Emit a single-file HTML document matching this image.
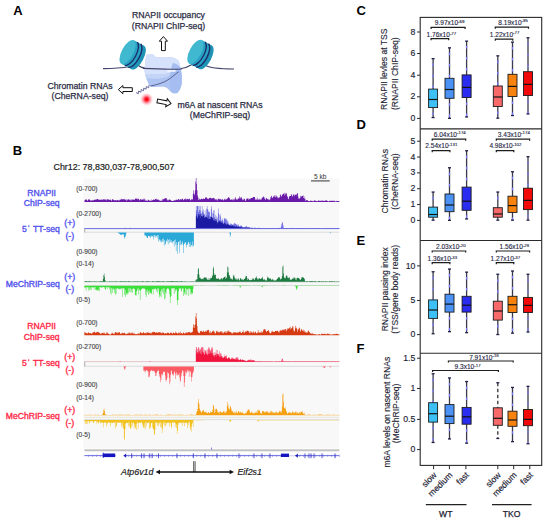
<!DOCTYPE html>
<html><head><meta charset="utf-8"><style>
html,body{margin:0;padding:0;background:#fff;width:550px;height:522px;overflow:hidden}
svg{display:block}
text{font-family:"Liberation Sans",sans-serif}
</style></head><body>
<svg width="550" height="522" viewBox="0 0 550 522">
<rect width="550" height="522" fill="#fff"/>
<text x="13.2" y="14.7" font-size="13" fill="#000" text-anchor="start" font-weight="bold" font-style="normal" >A</text>
<text x="12.8" y="154.6" font-size="13" fill="#000" text-anchor="start" font-weight="bold" font-style="normal" >B</text>
<text x="356.6" y="15.0" font-size="13" fill="#000" text-anchor="start" font-weight="bold" font-style="normal" >C</text>
<text x="356.5" y="129.3" font-size="13" fill="#000" text-anchor="start" font-weight="bold" font-style="normal" >D</text>
<text x="356.5" y="244.5" font-size="13" fill="#000" text-anchor="start" font-weight="bold" font-style="normal" >E</text>
<text x="356.5" y="353.0" font-size="13" fill="#000" text-anchor="start" font-weight="bold" font-style="normal" >F</text>
<text x="168.5" y="18.0" font-size="8.7" fill="#2c2c44" text-anchor="middle" font-weight="normal" font-style="normal" stroke="#2c2c44" stroke-width="0.25">RNAPII occupancy</text>
<text x="168.5" y="29.4" font-size="8.7" fill="#2c2c44" text-anchor="middle" font-weight="normal" font-style="normal" stroke="#2c2c44" stroke-width="0.25">(RNAPII ChIP-seq)</text>
<text x="80" y="89" font-size="8.7" fill="#2c2c44" text-anchor="middle" font-weight="normal" font-style="normal" stroke="#2c2c44" stroke-width="0.25">Chromatin RNAs</text>
<text x="80" y="98.5" font-size="8.7" fill="#2c2c44" text-anchor="middle" font-weight="normal" font-style="normal" stroke="#2c2c44" stroke-width="0.25">(CheRNA-seq)</text>
<text x="220.0" y="108.1" font-size="8.7" fill="#2c2c44" text-anchor="middle" font-weight="normal" font-style="normal" stroke="#2c2c44" stroke-width="0.25">m6A at nascent RNAs</text>
<text x="220.0" y="118.3" font-size="8.7" fill="#2c2c44" text-anchor="middle" font-weight="normal" font-style="normal" stroke="#2c2c44" stroke-width="0.25">(MeChRIP-seq)</text>
<polygon points="0.00,0.00 -4.60,-4.10 -4.60,-1.90 -14.00,-1.90 -14.00,1.90 -4.60,1.90 -4.60,4.10" fill="#fff" stroke="#111" stroke-width="1" stroke-linejoin="miter" transform="translate(163.4,36.6) rotate(-90)"/>
<polygon points="0.00,0.00 -4.60,-4.10 -4.60,-1.90 -14.00,-1.90 -14.00,1.90 -4.60,1.90 -4.60,4.10" fill="#fff" stroke="#111" stroke-width="1" stroke-linejoin="miter" transform="translate(118.3,89.6) rotate(180)"/>
<polygon points="0.00,0.00 -4.60,-4.10 -4.60,-1.90 -14.00,-1.90 -14.00,1.90 -4.60,1.90 -4.60,4.10" fill="#fff" stroke="#111" stroke-width="1" stroke-linejoin="miter" transform="translate(171,103.6) rotate(11)"/>
<path d="M103,68.6 C115,68.6 122,68 130,66.5 M136,63.5 C139,66.5 142,68.2 147,68.4 M180,68.8 C184,68.5 188,67 192,64.5 M205,65 C210,68.5 220,69 234,69" fill="none" stroke="#45456e" stroke-width="1.1"/>
<g transform="translate(127.6,52.0) rotate(28)"><ellipse cx="11.5" cy="0" rx="5.8" ry="13.3" fill="#1e93b6"/><rect x="0" y="-13.3" width="11.5" height="26.6" fill="#27a2c4"/><path d="M3.9,-13.200000000000001 A5.8,13.3 0 0 1 3.9,13.200000000000001" fill="none" stroke="#1c2c66" stroke-width="1.35"/><path d="M7.8,-13.200000000000001 A5.8,13.3 0 0 1 7.8,13.200000000000001" fill="none" stroke="#1c2c66" stroke-width="1.35"/><ellipse cx="0" cy="0" rx="5.8" ry="13.3" fill="#3fb8d0"/></g>
<g transform="translate(195.4,51.8) rotate(28)"><ellipse cx="11.5" cy="0" rx="5.8" ry="13.3" fill="#1e93b6"/><rect x="0" y="-13.3" width="11.5" height="26.6" fill="#27a2c4"/><path d="M3.9,-13.200000000000001 A5.8,13.3 0 0 1 3.9,13.200000000000001" fill="none" stroke="#1c2c66" stroke-width="1.35"/><path d="M7.8,-13.200000000000001 A5.8,13.3 0 0 1 7.8,13.200000000000001" fill="none" stroke="#1c2c66" stroke-width="1.35"/><ellipse cx="0" cy="0" rx="5.8" ry="13.3" fill="#3fb8d0"/></g>
<path d="M146.4,55.5 C147.5,54.3 150,53.8 152,54.2 C153.5,54.5 154.5,55.5 155.6,57.2 C158,57 160,56.9 163,56.9 C167,56.9 170,57 172.2,57.4 C175,57.9 177,59 178.2,60.6 C179.3,62 180,65 180.6,68.4 C181.5,72 182,76 181.9,80.3 C181.8,83.5 181.5,85.5 180.9,86.8 C180.2,89 179.5,90.6 178.6,91.4 C177.6,92.6 176.8,93.3 175.6,93.3 C174,93.4 173,93.2 172.2,92.8 C171,92.2 170,91.3 169.4,90.5 C168.5,89.5 167.6,88.3 166.7,87.7 C164.5,86.8 163,86.8 161.1,86.8 L155.6,86.8 C154,86.9 153,86.9 152,86.8 C150.8,86.5 149.8,85.8 149.2,85 C148.4,84 147.8,82.8 147.4,81.3 C146.5,79.5 145.9,77.5 145.5,75.7 C145,74 144.7,72.5 144.6,71.1 C144.5,69 144.7,67.3 145,65.6 C145.2,64 145.3,62.5 145.5,61 C145.6,59 145.8,57 146.4,55.5 Z" fill="#adc4f3"/>
<clipPath id="pc"><path d="M146.4,55.5 C147.5,54.3 150,53.8 152,54.2 C153.5,54.5 154.5,55.5 155.6,57.2 C158,57 160,56.9 163,56.9 C167,56.9 170,57 172.2,57.4 C175,57.9 177,59 178.2,60.6 C179.3,62 180,65 180.6,68.4 C181.5,72 182,76 181.9,80.3 C181.8,83.5 181.5,85.5 180.9,86.8 C180.2,89 179.5,90.6 178.6,91.4 C177.6,92.6 176.8,93.3 175.6,93.3 C174,93.4 173,93.2 172.2,92.8 C171,92.2 170,91.3 169.4,90.5 C168.5,89.5 167.6,88.3 166.7,87.7 C164.5,86.8 163,86.8 161.1,86.8 L155.6,86.8 C154,86.9 153,86.9 152,86.8 C150.8,86.5 149.8,85.8 149.2,85 C148.4,84 147.8,82.8 147.4,81.3 C146.5,79.5 145.9,77.5 145.5,75.7 C145,74 144.7,72.5 144.6,71.1 C144.5,69 144.7,67.3 145,65.6 C145.2,64 145.3,62.5 145.5,61 C145.6,59 145.8,57 146.4,55.5 Z"/></clipPath>
<g clip-path="url(#pc)"><path d="M140,50 H186 V67 C180,69 176,71 172,72.5 C168,74 163,74.5 158,74.5 C153,74.5 148,74.6 140,75 Z" fill="#d6e1fb"/><path d="M140,75 C148,74.6 153,74.5 158,74.5 C163,74.5 168,74 172,72.5 C170,76 166,78 160,78.5 C154,79 148,78.5 140,78.5 Z" fill="#c3d4f7"/><path d="M173,63 C178,64 184,68 184,80 C184,92 180,96 174,96 C170,92 169,84 170,76 C170.5,71 171.5,66 173,63Z" fill="#a5bdf1"/><path d="M146,82 C150,86 156,87.5 164,87 L164,90 L146,90Z" fill="#9fb8ef"/></g>
<path d="M150.5,86 C155,85 160,84 165,81.5 C169,79.5 172,77 175,74.5 C176.5,73.3 177.5,72.5 178.5,72" fill="none" stroke="#55558a" stroke-width="0.9"/>
<path d="M143,68.4 C155,69 170,69.5 182,69" fill="none" stroke="#45456e" stroke-width="1.1"/>
<path d="M167,70.2 C170,69.8 173.5,69.8 176,70.3 L175.2,72 C172,71.6 170,71.6 167.6,72 Z" fill="#f2f6ff"/>
<polyline points="136.00,92.50 138.30,93.75 138.60,91.00 140.90,92.25 141.20,89.50 143.50,90.75 143.80,88.00 146.10,89.25 146.40,86.50 148.70,87.75 149.00,85.00" fill="none" stroke="#54548a" stroke-width="0.85"/>
<defs><radialGradient id="rg"><stop offset="0" stop-color="#ff0010"/><stop offset="0.22" stop-color="#ff1020"/><stop offset="0.5" stop-color="#ff6878" stop-opacity="0.75"/><stop offset="1" stop-color="#ffc0c8" stop-opacity="0"/></radialGradient></defs>
<circle cx="146.6" cy="99.3" r="6.8" fill="url(#rg)"/>
<text x="53.5" y="169.8" font-size="8.9" fill="#222" text-anchor="start" font-weight="normal" font-style="normal" stroke="#222" stroke-width="0.2">Chr12: 78,830,037-78,900,507</text>
<rect x="83.3" y="178.4" width="256.0" height="270" fill="#f8f8f8"/>
<rect x="311" y="180.3" width="18.7" height="1.2" fill="#555"/>
<text x="320.3" y="179" font-size="6.6" fill="#333" text-anchor="middle" font-weight="normal" font-style="normal" >5 kb</text>
<rect x="84.4" y="231.7" width="254.9" height="1" fill="#dcdcdc"/>
<rect x="84.4" y="284.9" width="254.9" height="1" fill="#dcdcdc"/>
<rect x="84.4" y="365.8" width="254.9" height="1" fill="#dcdcdc"/>
<rect x="84.4" y="419.1" width="254.9" height="1" fill="#dcdcdc"/>
<rect x="84.4" y="361.1" width="254.9" height="1" fill="#e6c4c8"/>
<rect x="84.4" y="281.4" width="254.9" height="1" fill="#c8d4cc"/>
<rect x="84.4" y="228.5" width="0.8" height="4.0" fill="#999"/>
<rect x="84.4" y="361.6" width="0.8" height="5.0" fill="#999"/>
<rect x="84.4" y="416.9" width="254.9" height="0.7" fill="#e2dccc"/>
<path d="M84.4,202.0H84.4V200.5H84.9V199.6H85.4V199.7H85.9V199.5H86.4V199.6H86.9V200.2H87.4V201.0H87.9V200.0H88.4V199.0H88.9V199.8H89.4V199.2H89.9V200.1H90.4V200.8H90.9V200.4H91.4V200.6H91.9V200.8H92.4V199.9H92.9V200.1H93.4V200.6H93.9V199.5H94.4V200.0H94.9V199.5H95.4V199.8H95.9V199.5H96.9V199.0H98.4V200.0H98.9V199.5H99.4V199.9H99.9V199.8H100.4V199.8H101.4V199.4H102.4V200.3H102.9V199.1H103.4V199.4H103.9V200.1H104.4V199.1H104.9V199.5H105.9V200.6H106.4V199.6H106.9V199.2H107.4V199.5H107.9V198.9H108.4V199.7H108.9V199.7H109.4V200.0H109.9V199.8H110.4V199.6H110.9V200.6H111.4V200.8H111.9V199.6H112.4V199.1H112.9V199.9H113.4V199.5H113.9V200.6H114.4V200.1H114.9V200.4H115.4V200.1H115.9V200.4H116.4V200.2H116.9V199.7H117.4V200.1H117.9V200.7H118.4V200.2H118.9V199.8H119.4V200.6H119.9V199.8H120.4V199.4H120.9V199.5H121.4V198.7H121.9V199.2H122.9V199.4H123.4V199.0H123.9V198.7H124.4V199.6H124.9V200.1H125.4V199.5H125.9V199.2H126.4V200.8H126.9V199.4H127.4V200.3H127.9V199.1H128.4V199.4H128.9V199.9H129.4V199.5H129.9V199.6H130.4V200.4H131.4V199.2H131.9V199.9H132.4V199.3H132.9V200.1H133.4V199.3H133.9V199.9H134.4V199.5H134.9V198.7H135.4V198.6H135.9V198.5H136.4V198.7H136.9V198.6H137.4V199.5H137.9V198.9H138.4V198.5H138.9V199.8H139.4V200.5H139.9V199.5H140.4V199.0H140.9V199.2H141.4V199.7H141.9V200.0H142.4V199.3H142.9V198.7H143.4V199.7H143.9V198.4H144.4V199.4H144.9V200.9H145.4V199.4H145.9V200.4H146.4V200.6H146.9V201.0H147.4V200.6H147.9V199.4H148.4V200.1H148.9V200.7H149.4V200.2H149.9V200.9H150.4V200.4H150.9V201.0H151.4V199.5H151.9V200.4H152.4V199.9H152.9V199.7H153.4V199.5H153.9V199.6H154.4V199.9H154.9V199.0H155.4V199.1H155.9V198.6H156.4V199.6H156.9V200.0H157.4V199.2H157.9V199.8H158.4V199.6H158.9V200.0H159.4V200.8H159.9V200.5H160.4V200.9H160.9V200.4H161.4V200.7H161.9V198.8H162.4V200.4H162.9V199.2H163.4V199.3H163.9V199.0H164.4V198.6H164.9V198.1H165.4V198.3H165.9V198.3H166.4V198.6H166.9V199.8H167.4V200.5H167.9V199.8H168.4V200.6H168.9V199.6H169.9V199.8H170.4V200.1H170.9V200.9H171.4V200.5H171.9V201.0H172.4V201.1H172.9V200.9H173.4V200.6H173.9V200.0H174.4V200.8H174.9V200.3H175.4V200.2H175.9V199.5H176.4V199.7H176.9V200.3H177.4V199.9H177.9V199.1H178.9V199.4H179.4V200.3H179.9V199.3H180.4V199.2H180.9V199.7H181.4V199.3H181.9V198.9H182.4V198.4H182.9V199.7H183.4V200.3H183.9V198.9H184.4V199.3H184.9V199.5H185.4V198.2H185.9V198.9H186.4V199.8H186.9V198.9H187.4V198.8H187.9V199.0H188.4V199.5H188.9V198.7H189.4V198.7H189.9V199.9H190.4V200.6H190.9V198.7H191.4V199.4H191.9V200.0H192.4V199.1H192.9V193.8H193.4V190.2H193.9V193.5H194.4V195.2H194.9V190.4H195.4V181.5H195.9V178.1H196.4V183.8H196.9V190.2H197.4V195.4H197.9V197.4H198.4V200.0H198.9V199.4H199.4V198.5H199.9V199.7H200.4V199.2H200.9V199.1H201.4V198.4H201.9V199.1H202.4V199.3H202.9V198.7H203.4V198.4H203.9V199.1H204.4V199.0H204.9V198.1H205.4V197.3H206.4V197.5H206.9V198.8H207.4V198.6H207.9V198.6H208.4V199.3H208.9V198.2H209.4V198.0H209.9V197.8H210.4V197.8H210.9V198.0H211.4V198.7H211.9V198.5H212.4V198.0H212.9V197.8H213.4V198.1H213.9V199.2H214.4V198.1H214.9V199.5H215.4V199.3H215.9V200.3H216.4V199.0H216.9V199.4H217.4V200.5H217.9V198.6H218.4V199.0H218.9V198.7H219.4V199.6H219.9V198.8H220.4V199.4H220.9V199.2H221.4V200.0H221.9V198.9H222.4V199.6H222.9V200.0H223.4V200.4H223.9V198.7H224.4V199.6H224.9V198.7H225.4V200.1H225.9V199.2H226.4V199.3H226.9V198.4H227.9V197.4H228.4V197.1H228.9V197.8H229.4V198.3H229.9V199.6H230.4V199.7H230.9V200.0H231.4V198.9H231.9V200.0H232.4V199.3H232.9V200.4H233.4V198.7H233.9V200.1H234.4V198.7H234.9V198.6H235.4V196.9H235.9V199.5H236.4V199.3H236.9V200.0H237.4V198.7H238.4V198.2H238.9V198.4H239.4V196.3H239.9V197.2H240.4V198.4H240.9V197.6H241.4V197.3H241.9V199.1H242.4V200.3H242.9V198.7H243.4V200.1H243.9V198.6H244.4V198.9H244.9V200.7H245.4V200.8H245.9V199.6H246.4V198.8H246.9V198.5H247.4V198.4H247.9V198.3H248.4V199.8H248.9V199.2H249.4V198.8H249.9V198.3H250.4V199.1H250.9V198.0H251.9V197.9H252.4V197.7H252.9V197.1H253.4V196.9H254.4V197.1H254.9V198.4H255.4V199.9H255.9V199.6H256.9V197.4H257.4V199.6H257.9V199.9H258.4V199.0H258.9V199.9H259.4V198.5H259.9V199.2H260.4V199.7H261.4V198.4H261.9V197.3H262.4V198.1H262.9V196.6H263.4V196.8H263.9V196.9H264.4V198.4H264.9V198.9H265.4V199.9H265.9V197.7H266.4V198.2H266.9V199.0H267.4V199.2H267.9V198.8H268.4V199.7H268.9V199.5H269.4V200.3H269.9V199.3H270.4V197.2H270.9V196.5H271.4V195.7H271.9V198.1H272.4V197.7H272.9V196.7H273.4V196.3H273.9V195.3H274.4V196.8H274.9V195.3H275.4V197.6H275.9V196.8H276.4V195.4H276.9V196.7H277.4V197.6H277.9V198.4H278.4V197.4H278.9V197.2H279.4V197.4H279.9V194.7H280.4V194.6H280.9V196.6H281.4V196.2H281.9V194.6H282.4V194.8H282.9V193.6H283.4V194.0H283.9V192.8H284.4V195.4H284.9V193.0H285.4V194.5H285.9V194.0H286.4V192.7H286.9V195.8H287.4V197.1H287.9V199.2H288.4V198.8H288.9V196.4H289.4V196.2H289.9V196.1H290.9V194.1H291.4V194.7H291.9V196.6H292.4V196.2H292.9V194.2H293.4V194.8H293.9V194.7H294.4V196.3H294.9V194.6H295.4V195.0H295.9V194.0H296.4V195.2H296.9V192.9H297.4V193.5H297.9V196.6H298.4V198.7H298.9V198.0H299.4V198.9H299.9V197.8H300.4V195.7H300.9V196.6H301.4V196.4H301.9V196.0H302.4V196.1H302.9V195.3H303.4V198.1H303.9V196.4H304.4V198.9H304.9V198.6H305.4V201.0H305.9V200.2H306.4V200.1H306.9V200.4H307.4V200.1H307.9V200.9H308.9V201.3H309.9V200.7H310.4V200.5H310.9V201.1H311.4V200.8H312.4V201.2H312.9V201.4H313.4V200.7H314.4V200.3H314.9V200.8H315.4V200.4H315.9V200.9H316.4V201.0H316.9V201.4H317.4V200.9H317.9V200.4H318.4V200.5H318.9V200.4H319.4V200.9H319.9V200.6H320.4V201.1H320.9V200.9H321.4V200.4H321.9V200.5H322.4V200.7H322.9V200.6H323.4V201.0H323.9V200.9H324.4V200.7H324.9V200.4H325.9V200.5H326.4V200.3H326.9V200.7H327.4V201.0H327.9V201.3H328.4V201.5H328.9V200.9H329.4V200.7H329.9V201.0H330.4V200.5H330.9V201.0H331.4V200.7H331.9V200.6H332.4V200.9H332.9V200.6H333.4V201.2H333.9V200.7H334.4V200.8H334.9V201.4H335.4V201.3H335.9V201.5H336.4V200.7H336.9V201.0H337.4V201.1H338.9V200.8H339.3V202.0Z" fill="#6a1aa8"/>
<path d="M84.4,335.2H84.4V332.1H84.9V332.6H85.4V332.8H85.9V333.2H86.4V332.9H86.9V333.6H87.4V333.5H87.9V332.3H88.4V332.6H88.9V333.2H89.9V333.3H90.4V333.1H90.9V333.2H91.4V334.0H91.9V332.5H92.4V333.4H92.9V332.6H93.4V332.0H93.9V331.9H94.4V331.5H94.9V332.9H95.4V332.5H95.9V332.7H96.4V332.0H96.9V331.9H97.4V331.7H97.9V332.4H98.4V331.9H98.9V332.5H99.4V333.1H99.9V333.7H100.4V333.8H101.4V333.0H102.4V332.8H102.9V333.5H103.4V332.4H103.9V333.5H104.4V332.8H104.9V333.5H105.4V334.1H105.9V334.0H106.4V332.3H106.9V332.2H107.4V333.2H107.9V333.2H108.4V334.0H108.9V334.1H109.4V334.4H109.9V334.6H110.4V334.7H110.9V333.3H111.4V333.7H111.9V332.6H112.4V333.6H112.9V333.3H113.4V333.9H113.9V334.3H114.4V333.2H114.9V332.3H115.4V331.9H115.9V332.5H116.4V332.5H116.9V333.5H117.4V332.5H117.9V332.6H118.4V332.8H118.9V332.0H119.4V332.3H119.9V333.6H120.4V334.0H120.9V333.5H121.9V332.4H122.4V333.2H122.9V333.6H123.4V333.1H123.9V332.6H124.4V333.0H124.9V333.5H125.4V334.2H125.9V333.9H126.4V334.1H126.9V333.5H127.4V333.6H127.9V333.9H128.4V332.5H128.9V332.9H129.4V332.4H129.9V332.8H130.4V333.7H130.9V333.6H131.4V332.5H131.9V333.2H132.4V332.6H132.9V333.9H133.4V332.8H133.9V333.8H134.4V333.6H134.9V333.9H135.4V334.3H135.9V333.9H136.4V334.3H137.4V333.8H137.9V332.9H138.4V333.7H138.9V334.2H139.4V333.3H139.9V332.1H140.4V332.4H140.9V332.7H141.4V332.9H141.9V333.4H142.4V333.2H142.9V332.5H143.4V332.1H143.9V333.1H144.4V333.5H144.9V332.9H145.4V332.8H145.9V333.7H146.4V332.4H146.9V332.8H147.4V332.2H147.9V332.3H148.4V333.0H148.9V332.7H149.4V333.0H149.9V333.7H150.4V332.5H150.9V333.5H151.4V332.8H151.9V332.2H152.9V331.6H153.4V332.2H153.9V332.1H154.9V332.5H155.4V333.0H155.9V332.1H156.4V332.6H156.9V333.1H157.4V332.8H157.9V332.2H158.4V332.4H159.4V332.0H159.9V332.3H160.4V332.4H160.9V333.6H161.4V332.9H161.9V332.1H162.4V333.3H162.9V332.7H163.4V332.4H163.9V333.3H164.4V333.8H164.9V333.5H165.4V333.1H165.9V333.6H166.9V332.9H167.4V332.5H167.9V332.4H168.4V333.1H168.9V333.2H169.4V334.1H169.9V333.0H170.4V332.7H170.9V332.1H171.4V333.2H172.4V334.0H172.9V332.6H173.4V332.7H173.9V333.0H174.4V333.4H174.9V333.2H175.4V331.5H175.9V333.0H176.4V332.4H176.9V332.9H177.4V333.8H177.9V333.6H178.4V332.6H178.9V332.6H179.4V333.3H179.9V333.7H180.4V331.6H180.9V333.0H181.4V332.9H181.9V333.8H182.9V332.6H183.4V332.5H183.9V332.9H184.4V333.7H184.9V333.6H185.4V332.7H185.9V332.3H186.4V332.8H186.9V333.2H187.4V332.3H188.4V332.2H188.9V331.9H189.4V331.9H189.9V332.9H190.4V332.6H190.9V333.0H191.4V332.1H191.9V332.3H192.4V331.5H192.9V327.5H193.4V324.0H193.9V325.1H194.4V327.9H194.9V324.6H195.4V316.6H195.9V313.0H196.4V318.4H196.9V326.0H197.4V330.8H197.9V332.3H198.4V332.8H198.9V333.2H199.4V333.1H199.9V331.6H200.4V330.9H200.9V330.7H201.4V331.3H201.9V332.1H202.4V331.7H202.9V330.5H203.4V331.3H203.9V332.2H204.4V331.8H205.4V330.5H205.9V331.4H206.4V331.5H206.9V330.4H207.4V330.0H207.9V329.4H208.4V329.9H208.9V331.5H209.4V332.7H209.9V333.5H210.4V331.0H210.9V332.9H211.4V332.3H211.9V331.8H212.4V330.9H212.9V331.4H213.4V330.6H213.9V331.3H214.4V332.4H214.9V333.6H215.4V333.2H215.9V331.6H216.4V331.2H216.9V330.4H217.4V332.3H217.9V331.8H218.4V332.2H218.9V332.3H219.4V332.4H219.9V331.3H220.4V331.7H220.9V331.1H221.4V332.3H221.9V331.6H222.4V333.1H222.9V333.4H223.4V332.5H223.9V331.9H224.4V331.4H224.9V333.0H225.4V331.6H225.9V331.2H226.4V332.9H226.9V332.3H227.4V330.9H227.9V330.3H228.4V331.7H228.9V331.0H229.4V332.1H229.9V331.9H230.4V332.2H231.4V333.2H231.9V333.2H232.4V333.4H232.9V332.6H233.4V332.2H233.9V333.0H234.4V331.9H234.9V332.1H235.4V332.5H235.9V332.9H236.4V332.5H236.9V332.4H237.4V332.7H237.9V332.1H238.4V332.8H238.9V332.0H239.4V331.5H239.9V332.6H240.4V331.6H240.9V333.3H241.4V333.1H241.9V331.9H242.4V332.1H242.9V330.3H243.4V332.6H243.9V332.0H244.4V333.2H244.9V331.4H245.4V331.7H245.9V330.7H246.4V331.9H246.9V330.8H247.9V331.1H248.4V331.5H248.9V331.6H249.4V333.3H249.9V333.0H250.4V331.2H250.9V331.6H251.4V332.6H251.9V332.2H252.4V333.3H252.9V331.1H253.4V332.3H253.9V333.3H254.4V332.6H254.9V332.1H255.4V331.4H255.9V333.0H256.4V333.6H256.9V333.3H257.4V332.3H257.9V330.1H258.4V332.6H258.9V332.5H259.4V332.8H259.9V332.5H260.4V332.6H260.9V331.1H261.4V332.7H262.4V332.0H262.9V330.9H263.4V329.6H263.9V329.1H264.4V329.6H264.9V329.0H265.4V330.6H265.9V331.5H266.4V331.9H266.9V331.0H267.9V330.0H268.4V330.4H268.9V331.5H269.4V332.8H269.9V333.6H270.4V333.1H270.9V332.8H271.4V331.2H271.9V331.9H272.4V330.8H272.9V331.6H273.4V332.1H273.9V331.9H274.4V332.1H274.9V330.7H275.4V330.9H275.9V331.2H276.4V330.9H276.9V330.5H277.4V331.0H277.9V331.6H278.4V331.9H278.9V332.7H279.4V330.8H279.9V330.4H280.4V330.2H280.9V330.7H281.4V330.5H281.9V330.2H282.4V329.6H282.9V329.8H283.4V330.3H283.9V329.0H284.4V330.2H284.9V328.9H285.4V329.1H285.9V331.3H286.4V330.3H286.9V328.2H287.4V329.5H287.9V328.4H288.4V328.8H288.9V327.9H289.4V327.5H289.9V329.4H290.4V326.8H290.9V328.4H291.4V328.3H291.9V327.8H292.4V326.1H292.9V326.5H293.4V330.2H293.9V331.7H294.4V331.0H294.9V328.5H295.4V325.8H295.9V327.4H296.4V328.3H296.9V329.6H297.4V332.1H297.9V328.8H298.4V329.7H298.9V327.4H299.4V328.0H299.9V330.4H300.4V331.8H300.9V329.6H301.4V329.1H301.9V330.8H302.4V330.5H302.9V329.4H303.4V331.4H303.9V330.2H304.4V331.7H304.9V332.4H305.4V331.6H305.9V332.7H306.4V332.2H306.9V333.0H307.4V331.7H307.9V330.7H308.4V330.4H308.9V332.0H309.4V332.2H309.9V333.5H310.4V333.0H310.9V333.9H311.4V333.5H311.9V332.8H312.4V333.9H312.9V333.8H313.4V334.0H313.9V334.5H314.4V334.0H314.9V334.3H315.4V334.0H315.9V334.6H316.4V334.7H316.9V334.5H317.4V334.7H317.9V334.2H318.4V334.5H318.9V334.2H319.4V334.1H319.9V334.4H320.4V334.7H320.9V334.2H321.4V333.8H321.9V333.6H322.4V334.0H322.9V333.9H323.4V334.0H324.4V333.8H324.9V334.3H325.4V333.8H325.9V334.0H326.4V334.5H326.9V333.6H327.4V333.7H327.9V333.7H328.4V334.1H328.9V333.8H329.4V334.4H329.9V334.2H330.4V334.4H330.9V334.7H331.4V334.5H331.9V334.2H332.4V334.4H332.9V334.1H333.4V334.4H333.9V333.9H334.4V334.3H334.9V334.0H335.4V334.3H335.9V333.5H336.4V333.9H337.9V334.2H338.4V334.4H338.9V334.3H339.3V335.2Z" fill="#d63a12"/>
<path d="M84.4,228.6H84.4V228.6H124.4V228.2H124.9V227.6H125.4V228.0H125.9V228.5H126.4V228.6H129.4V228.4H129.9V227.6H130.4V228.1H130.9V228.6H195.9V206.1H196.4V210.4H196.9V206.1H198.4V212.0H198.9V206.1H199.4V210.0H199.9V210.4H200.4V206.1H200.9V212.8H201.4V217.6H201.9V206.1H202.4V211.2H202.9V212.5H203.4V209.5H203.9V214.2H204.4V217.7H204.9V210.4H205.4V216.5H205.9V215.2H206.4V208.6H206.9V206.1H207.4V209.1H207.9V210.2H208.4V211.9H208.9V212.3H209.4V211.6H209.9V217.6H210.4V216.0H210.9V208.7H211.4V206.1H211.9V212.6H212.4V217.7H212.9V213.8H213.4V210.6H213.9V209.9H214.4V216.9H214.9V221.4H215.4V214.8H215.9V219.8H216.4V216.3H216.9V222.5H217.4V217.8H217.9V213.0H218.4V208.4H218.9V214.9H219.4V219.9H219.9V213.7H220.4V216.4H220.9V219.7H221.4V221.3H221.9V218.3H222.4V220.0H222.9V221.0H223.4V223.5H223.9V218.7H224.4V218.1H224.9V218.4H225.4V218.8H225.9V220.2H226.4V218.7H226.9V222.6H227.4V220.2H227.9V221.6H228.4V223.7H228.9V224.7H229.9V223.1H230.4V224.2H230.9V224.3H231.4V223.7H231.9V223.9H232.4V225.0H232.9V225.2H233.4V223.9H233.9V222.8H234.4V223.6H234.9V223.3H235.4V224.1H236.4V225.1H236.9V224.2H237.4V225.6H237.9V225.3H238.4V224.6H238.9V225.9H239.4V226.5H239.9V226.0H240.4V225.5H240.9V225.3H241.4V226.1H241.9V226.3H242.4V227.2H242.9V226.9H243.4V227.6H243.9V227.3H244.4V227.6H244.9V226.7H245.9V226.3H246.4V226.0H246.9V227.1H247.4V227.0H249.4V227.1H249.9V227.7H250.4V227.8H250.9V227.6H251.4V227.9H251.9V227.7H252.4V227.4H252.9V227.9H253.4V228.1H253.9V227.8H254.9V227.7H255.4V227.8H255.9V228.0H256.4V228.1H256.9V228.3H257.4V228.0H257.9V227.8H259.4V228.0H259.9V228.1H260.9V227.9H261.4V228.2H261.9V228.1H262.4V228.2H262.9V228.0H263.4V228.1H263.9V228.1H264.9V228.1H265.4V227.9H265.9V228.1H266.4V227.9H266.9V228.2H267.4V228.2H267.9V228.3H268.9V228.1H269.4V228.0H269.9V228.2H270.4V228.3H270.9V228.2H271.4V228.0H271.9V227.9H273.4V228.2H274.4V228.3H274.9V228.2H275.4V228.1H275.9V228.2H276.9V228.1H277.4V228.3H277.9V228.1H278.4V227.9H278.9V227.8H279.4V228.0H280.4V227.8H280.9V226.6H281.4V223.9H281.9V222.2H282.4V222.5H282.9V224.9H283.4V227.4H283.9V228.0H284.9V228.2H285.4V228.1H287.9V228.2H288.4V228.1H288.9V228.3H289.4V228.2H289.9V228.1H291.4V227.9H291.9V227.8H292.4V228.1H292.9V228.0H293.9V228.2H295.4V228.4H295.9V228.2H296.4V228.0H296.9V228.1H297.4V228.0H298.4V228.2H298.9V228.0H299.9V227.9H301.4V228.1H301.9V228.0H302.4V227.9H303.4V228.0H304.9V228.2H305.4V228.3H307.4V228.2H307.9V228.1H309.9V228.2H310.9V228.0H311.4V228.1H311.9V228.2H312.4V228.0H313.4V228.1H313.9V228.1H314.9V228.1H315.4V228.2H315.9V228.3H316.9V228.1H317.4V228.2H317.9V228.2H318.4V228.3H319.4V228.3H319.9V228.3H320.4V228.3H320.9V228.4H322.4V228.2H322.9V228.3H323.4V228.4H323.9V228.3H324.4V228.2H324.9V228.1H325.4V228.3H326.4V228.2H326.9V228.3H327.4V228.0H327.9V228.2H328.4V228.3H328.9V228.2H329.4V228.3H329.9V228.1H330.9V228.3H331.4V228.4H331.9V228.1H332.4V228.2H332.9V228.0H333.9V227.9H334.4V228.1H334.9V228.2H335.9V228.0H336.9V228.1H337.4V228.3H337.9V228.1H338.4V227.9H338.9V228.0H339.3V228.6Z" fill="#7272e2"/>
<path d="M84.4,228.6H84.4V228.6H195.9V216.3H196.4V214.6H196.9V217.9H197.4V217.7H197.9V215.8H198.4V213.9H199.4V215.6H199.9V218.1H200.4V214.2H200.9V213.7H201.4V215.9H201.9V216.1H202.4V216.9H202.9V216.0H203.4V215.1H203.9V214.3H204.4V217.7H204.9V216.8H205.4V217.8H205.9V216.9H206.4V217.0H206.9V218.3H207.4V217.7H207.9V215.8H208.4V218.9H208.9V219.0H209.4V218.9H209.9V216.8H210.4V219.2H210.9V217.3H211.4V217.1H211.9V217.5H212.4V218.0H212.9V220.4H213.4V219.7H213.9V218.5H214.4V220.8H214.9V221.1H215.4V219.0H216.4V221.1H216.9V223.4H217.4V222.4H217.9V221.7H218.4V221.2H218.9V222.2H219.4V220.9H219.9V221.5H220.4V221.8H220.9V221.5H221.4V222.9H221.9V222.3H222.4V223.2H222.9V223.5H223.4V224.3H223.9V222.8H224.9V224.6H225.4V223.4H225.9V224.8H226.4V224.3H226.9V224.6H227.4V223.8H227.9V224.7H228.9V225.1H229.4V225.4H229.9V225.5H230.4V225.9H230.9V226.0H231.4V225.5H231.9V225.4H232.4V225.6H232.9V226.2H233.4V225.5H233.9V226.5H234.4V226.3H234.9V226.5H235.4V226.7H235.9V226.1H236.4V226.4H236.9V226.9H237.9V226.6H238.4V227.0H238.9V227.1H239.4V227.2H240.9V227.3H241.4V227.2H241.9V227.6H242.4V227.4H243.4V227.7H243.9V227.4H244.9V227.6H245.4V227.7H245.9V227.8H246.4V227.7H246.9V227.8H247.4V227.9H247.9V227.8H248.4V228.0H248.9V227.9H249.9V228.1H250.4V227.9H250.9V228.1H251.9V228.0H252.9V228.1H253.4V228.0H253.9V228.1H254.4V228.0H254.9V228.2H255.4V228.1H255.9V228.2H256.4V228.1H256.9V228.2H257.4V228.1H258.4V228.2H263.9V228.3H264.4V228.2H264.9V228.3H265.4V228.2H267.9V228.3H268.4V228.4H268.9V228.3H270.4V228.3H270.9V228.2H271.9V228.3H273.9V228.2H274.4V228.3H274.9V228.2H275.4V228.3H276.4V228.3H279.9V228.4H281.4V228.3H281.9V228.3H282.9V228.2H283.9V228.3H285.4V228.3H286.9V228.3H289.4V228.2H289.9V228.3H292.4V228.2H293.4V228.3H293.9V228.3H295.9V228.2H296.4V228.3H298.9V228.3H300.9V228.3H301.9V228.3H303.9V228.3H305.4V228.4H307.4V228.3H307.9V228.3H308.9V228.3H309.4V228.3H310.4V228.3H310.9V228.3H311.4V228.3H312.9V228.3H315.9V228.3H317.4V228.2H319.4V228.3H320.9V228.4H323.9V228.2H325.4V228.3H326.4V228.3H326.9V228.3H327.9V228.2H328.4V228.4H328.9V228.3H331.4V228.4H331.9V228.2H332.4V228.3H333.4V228.2H333.9V228.3H334.4V228.3H335.4V228.3H335.9V228.2H336.9V228.3H337.4V228.2H338.4V228.3H338.9V228.3H339.3V228.6Z" fill="#1a1aa2"/>
<rect x="84.4" y="228.1" width="254.9" height="1" fill="#6a6ae0"/>
<path d="M84.4,232.4H84.4V232.4H116.4V232.5H116.9V232.6H117.4V232.7H117.9V232.9H118.4V233.2H118.9V233.6H119.4V234.1H119.9V234.5H120.4V234.8H120.9V234.9H121.4V234.8H121.9V234.6H122.4V234.2H122.9V234.0H123.4V234.7H123.9V237.1H124.4V238.8H124.9V237.2H125.4V235.7H125.9V233.7H126.4V232.5H126.9V232.4H144.4V235.4H144.9V235.1H145.4V235.5H145.9V236.5H146.9V238.1H147.9V236.0H148.4V235.7H148.9V236.2H149.4V236.3H149.9V237.9H150.4V236.6H150.9V235.6H151.4V236.4H152.4V236.2H152.9V235.5H153.4V239.6H153.9V236.7H154.4V235.1H154.9V235.2H155.4V237.4H155.9V236.1H156.4V236.3H156.9V238.2H157.4V235.0H157.9V235.2H158.4V241.5H158.9V240.6H159.4V239.2H159.9V239.7H160.4V241.5H160.9V242.4H161.4V240.8H161.9V241.9H162.4V239.0H162.9V241.5H163.4V238.4H163.9V245.8H164.4V239.9H164.9V243.5H165.4V244.5H165.9V240.9H166.4V240.4H166.9V241.8H167.4V238.7H167.9V244.5H168.4V240.1H168.9V239.1H169.4V243.0H169.9V239.8H170.4V242.0H170.9V242.5H171.4V240.3H171.9V243.2H172.4V241.8H172.9V241.5H173.4V240.9H173.9V246.5H174.4V240.3H174.9V239.6H175.4V244.4H175.9V251.0H176.4V242.2H176.9V245.0H177.4V253.8H177.9V242.2H178.4V242.1H178.9V240.8H179.4V252.8H179.9V245.2H180.4V240.4H180.9V244.6H181.4V244.5H181.9V241.1H182.4V242.9H182.9V245.2H183.4V252.9H183.9V243.8H184.4V243.5H184.9V241.9H185.4V242.4H185.9V245.0H186.4V247.2H186.9V243.6H187.4V245.0H187.9V242.4H188.4V241.8H188.9V247.1H189.4V243.9H189.9V242.2H190.4V247.0H190.9V245.4H191.4V245.1H191.9V246.7H192.4V241.4H192.9V245.0H193.4V246.2H193.9V232.4H229.4V233.5H229.9V236.7H230.4V234.8H230.9V232.6H231.4V232.4H329.4V232.6H329.9V233.4H330.4V232.9H330.9V232.4H339.3V232.4Z" fill="#2aa8d8"/>
<path d="M84.4,281.8H84.4V281.2H84.9V281.2H85.4V281.1H85.9V281.0H87.4V281.4H88.4V281.1H89.4V281.0H89.9V281.3H90.9V281.4H91.4V281.3H91.9V281.3H92.4V281.5H93.9V281.2H94.4V281.1H94.9V281.4H95.4V281.2H95.9V281.4H96.4V281.3H96.9V281.5H97.4V281.6H97.9V281.3H98.4V281.4H98.9V281.5H99.4V281.2H99.9V281.1H100.4V281.3H100.9V281.1H101.4V281.2H102.4V281.0H102.9V279.0H103.4V275.3H103.9V273.6H104.4V276.7H104.9V280.1H105.4V281.2H105.9V281.5H106.4V281.5H106.9V281.6H107.4V281.5H107.9V281.4H108.4V281.6H108.9V281.3H109.9V281.4H110.4V281.2H111.4V281.4H112.4V281.2H112.9V281.5H113.4V281.2H113.9V281.4H114.4V281.3H114.9V281.1H115.4V281.4H115.9V281.2H116.4V281.3H117.4V281.5H117.9V281.6H118.9V281.2H119.4V281.4H119.9V281.2H120.4V281.1H120.9V281.0H121.4V281.2H121.9V281.3H122.9V281.2H123.4V281.4H123.9V281.2H124.4V281.1H124.9V281.1H125.4V281.4H125.9V281.1H126.4V281.4H127.4V281.3H127.9V281.1H128.4V281.3H128.9V281.1H129.4V281.2H129.9V281.3H130.4V281.4H130.9V281.5H131.4V281.6H132.4V281.4H132.9V281.1H133.4V281.4H133.9V281.5H134.4V281.2H135.4V281.3H135.9V281.4H136.4V281.3H136.9V281.2H137.4V281.3H137.9V281.3H138.4V281.5H138.9V281.2H139.4V281.5H139.9V281.4H140.4V281.2H140.9V281.4H141.4V281.3H141.9V281.1H142.4V281.1H143.4V281.4H144.4V281.5H144.9V281.2H145.4V281.4H146.4V281.1H146.9V281.0H147.4V281.0H147.9V281.2H148.4V281.2H148.9V281.2H149.4V281.2H149.9V281.4H150.9V281.5H151.9V281.2H152.4V281.0H152.9V281.1H153.4V281.2H153.9V281.3H154.4V281.5H155.4V281.3H155.9V281.1H156.4V281.3H156.9V281.2H157.4V281.1H159.4V281.3H159.9V281.2H160.4V281.3H161.4V281.2H162.4V281.3H162.9V281.1H163.9V281.2H164.4V281.5H164.9V281.4H165.4V281.4H165.9V281.3H166.9V281.2H167.9V281.1H168.4V281.3H169.4V281.2H169.9V281.1H170.4V281.3H170.9V281.1H171.4V281.1H172.4V281.0H173.4V281.1H173.9V281.2H174.4V281.4H174.9V281.2H175.4V281.1H175.9V281.2H176.9V281.1H177.9V281.4H178.4V281.2H179.9V281.3H180.9V281.1H182.4V281.4H182.9V281.5H183.4V281.4H183.9V281.3H184.4V281.4H184.9V281.3H185.9V281.5H186.4V281.4H186.9V281.5H187.4V281.6H189.9V281.6H190.4V281.5H191.4V281.3H191.9V281.3H192.4V281.4H192.9V281.2H193.4V281.5H195.4V280.2H195.9V279.0H196.4V280.3H196.9V279.2H197.4V274.2H197.9V269.2H198.4V268.0H198.9V274.4H199.4V277.8H199.9V277.5H200.4V278.6H200.9V279.3H201.4V279.1H201.9V278.6H202.4V279.0H202.9V279.6H203.4V278.0H203.9V277.2H204.4V277.7H204.9V277.0H205.4V278.1H205.9V277.2H206.4V278.6H206.9V279.7H207.4V279.4H207.9V278.3H208.4V279.9H208.9V279.9H209.4V278.6H209.9V279.3H210.4V277.8H210.9V278.0H211.9V276.3H212.4V275.3H212.9V268.4H213.4V266.8H213.9V273.6H214.4V275.2H214.9V274.9H215.4V274.5H215.9V278.1H216.4V279.0H216.9V278.5H217.4V278.7H217.9V279.1H218.4V278.0H218.9V278.9H219.4V280.0H219.9V278.9H220.4V279.4H220.9V278.0H221.4V278.5H221.9V278.6H222.4V279.6H222.9V278.1H223.4V277.8H223.9V276.9H224.4V277.1H224.9V276.3H225.4V278.8H225.9V277.5H226.4V277.9H226.9V272.4H227.4V266.6H227.9V267.6H228.4V272.4H228.9V275.1H229.4V275.4H229.9V277.6H230.4V278.8H230.9V279.0H231.4V278.4H231.9V280.0H232.4V278.9H232.9V276.6H233.4V274.8H233.9V275.5H234.4V277.4H234.9V279.4H235.4V278.6H235.9V278.2H236.4V279.6H236.9V280.3H237.4V279.3H237.9V278.0H238.4V278.9H238.9V280.1H239.4V280.6H239.9V278.5H240.4V278.1H240.9V278.7H241.4V279.7H241.9V279.6H243.4V280.2H243.9V279.1H244.4V278.9H244.9V278.0H245.4V276.6H245.9V276.0H246.4V275.9H246.9V278.0H247.4V279.9H247.9V278.5H248.4V278.9H248.9V279.9H249.4V280.2H249.9V279.8H250.4V280.2H250.9V280.1H251.4V280.0H251.9V278.2H252.4V279.5H252.9V278.6H253.4V278.8H253.9V279.8H254.9V278.3H255.4V277.8H256.4V276.3H256.9V278.3H257.4V279.4H257.9V278.6H258.4V279.4H258.9V277.9H259.4V278.5H259.9V278.9H260.9V277.9H261.4V278.7H261.9V277.7H262.4V276.8H262.9V279.1H263.4V280.1H263.9V279.7H264.4V279.1H264.9V280.5H265.4V279.9H265.9V280.4H266.4V280.6H266.9V278.3H267.4V276.6H267.9V277.6H268.4V277.7H268.9V278.8H269.4V278.4H269.9V279.1H270.4V278.1H270.9V279.5H271.4V280.2H271.9V278.7H272.4V279.4H272.9V280.4H273.4V279.4H273.9V280.2H274.4V280.7H274.9V280.3H275.4V280.6H275.9V280.2H276.4V279.4H276.9V278.7H277.4V278.5H277.9V277.8H278.4V277.1H278.9V277.4H279.4V277.3H279.9V278.8H280.4V279.5H280.9V278.7H281.4V278.6H281.9V276.1H282.4V266.8H282.9V265.4H283.4V273.6H283.9V277.6H284.4V277.8H284.9V278.5H285.4V277.6H285.9V276.1H286.4V275.0H286.9V275.9H287.4V277.8H287.9V277.8H288.4V278.2H288.9V277.2H289.4V277.4H289.9V280.0H290.4V279.5H291.4V279.7H291.9V279.1H292.4V278.3H292.9V278.9H293.4V277.6H293.9V277.3H294.4V278.3H294.9V277.7H295.4V279.5H295.9V280.2H296.4V278.4H296.9V277.8H297.9V278.0H298.9V278.5H299.4V279.0H299.9V280.1H300.4V279.8H300.9V278.7H301.4V277.5H301.9V277.0H302.4V277.5H302.9V277.3H303.4V277.8H303.9V278.3H304.4V279.2H304.9V281.3H305.4V281.2H306.4V281.3H306.9V281.1H307.4V281.3H307.9V281.2H308.4V281.4H308.9V281.3H309.4V281.2H309.9V281.1H310.4V281.0H310.9V281.1H312.4V281.1H312.9V281.3H313.9V281.1H314.4V281.3H314.9V281.1H315.4V281.2H315.9V281.3H316.4V281.5H316.9V281.5H317.4V281.5H317.9V281.3H318.4V281.1H318.9V281.0H319.4V281.1H319.9V281.3H320.4V281.5H320.9V281.3H321.9V281.2H322.4V281.3H322.9V281.1H323.4V281.3H323.9V281.4H324.9V281.3H325.4V281.1H325.9V281.4H326.4V281.3H326.9V281.2H327.4V281.4H327.9V281.5H328.4V281.4H328.9V281.2H329.4V281.1H330.4V281.2H330.9V281.3H331.9V281.1H332.4V281.3H332.9V281.4H333.4V281.3H333.9V281.1H334.4V281.3H334.9V281.5H335.4V281.6H335.9V281.4H336.4V281.3H336.9V281.4H337.4V281.5H337.9V281.4H338.4V281.3H338.9V281.2H339.3V281.8Z" fill="#1c7a40"/>
<path d="M84.4,285.7H84.4V287.5H84.9V288.3H85.4V287.4H85.9V290.4H86.4V287.1H86.9V287.5H87.4V287.3H87.9V287.1H88.4V290.6H88.9V287.4H89.4V290.2H89.9V287.5H90.4V289.6H90.9V287.1H91.4V290.0H91.9V287.2H92.4V287.6H92.9V287.4H93.4V287.5H93.9V289.4H94.4V287.1H94.9V287.0H95.4V290.0H95.9V289.4H96.4V290.2H96.9V290.4H97.4V290.2H97.9V289.4H98.4V290.7H98.9V286.9H99.4V291.0H99.9V287.1H100.4V287.6H101.9V287.3H102.4V287.5H102.9V287.0H103.4V287.1H103.9V288.6H104.4V287.0H104.9V289.3H105.4V289.7H105.9V287.6H106.4V287.1H106.9V289.3H107.4V287.1H108.4V287.7H108.9V287.2H109.4V289.4H109.9V287.5H110.4V293.3H110.9V294.8H111.4V288.1H111.9V288.5H112.4V292.7H112.9V289.4H113.4V288.6H113.9V289.2H114.4V293.1H114.9V288.2H115.4V294.8H115.9V294.1H116.4V288.6H116.9V288.9H117.4V288.1H117.9V288.1H118.4V289.3H119.4V289.0H119.9V288.2H120.4V289.3H120.9V289.1H121.4V288.4H121.9V288.0H122.4V297.1H122.9V288.1H123.4V288.4H123.9V288.6H124.4V295.0H124.9V289.8H125.4V296.7H125.9V295.0H126.4V293.3H126.9V292.7H127.4V294.6H127.9V288.6H128.4V293.4H128.9V288.0H129.4V291.4H129.9V292.5H130.4V288.3H130.9V289.3H131.4V291.9H131.9V288.8H132.4V293.0H132.9V288.5H133.9V288.8H134.4V289.0H134.9V295.3H135.9V291.2H136.4V295.5H136.9V290.7H137.4V288.8H137.9V288.3H138.4V294.4H138.9V289.4H139.4V290.1H139.9V300.0H140.4V290.9H140.9V289.8H141.4V289.1H141.9V288.4H142.4V288.3H142.9V289.1H143.4V288.3H143.9V288.3H144.4V289.1H144.9V289.0H145.4V294.8H145.9V291.1H146.4V296.9H146.9V289.4H147.4V292.4H147.9V290.4H148.4V294.9H148.9V293.5H149.4V290.6H149.9V293.4H150.4V292.4H150.9V292.8H151.4V294.3H151.9V289.2H152.4V289.4H152.9V294.4H153.4V288.7H153.9V288.7H154.4V289.2H155.4V288.2H155.9V289.3H156.4V291.6H156.9V288.5H157.4V292.6H157.9V288.1H158.4V289.6H158.9V294.5H159.4V297.6H159.9V296.2H160.4V291.2H160.9V296.9H161.4V289.2H162.4V292.3H162.9V288.1H163.4V294.3H163.9V288.5H164.4V299.4H164.9V298.2H165.4V291.8H165.9V293.7H166.4V289.0H166.9V289.1H167.4V288.1H167.9V288.6H168.4V288.8H168.9V289.9H169.4V294.6H169.9V303.1H170.4V296.9H170.9V296.1H171.4V288.2H171.9V288.5H172.4V288.2H172.9V288.7H173.4V288.0H173.9V294.1H174.4V288.0H174.9V289.4H175.4V291.7H175.9V289.0H176.4V290.0H176.9V300.3H177.4V305.0H177.9V300.2H178.4V291.2H178.9V288.1H179.4V288.9H179.9V288.0H180.4V288.7H180.9V290.7H181.4V291.5H181.9V288.0H182.4V289.0H182.9V288.3H183.4V296.1H183.9V291.9H184.4V293.9H184.9V294.8H185.4V288.1H185.9V288.8H186.4V294.8H186.9V289.4H187.4V288.9H187.9V296.2H188.4V288.4H188.9V288.5H189.4V288.8H189.9V294.4H190.4V289.3H190.9V294.4H191.4V292.6H191.9V293.3H192.4V293.8H192.9V289.0H193.4V285.9H196.9V285.8H198.4V285.9H198.9V285.8H200.4V285.9H201.4V285.8H201.9V285.9H202.9V285.8H217.4V285.9H219.9V285.8H220.9V285.9H228.4V285.8H228.9V285.9H229.4V285.8H232.4V285.9H232.9V285.8H233.4V285.9H239.4V286.6H239.9V287.8H240.4V287.1H240.9V286.0H241.4V285.9H249.4V285.8H249.9V285.9H250.4V285.8H253.4V285.9H254.4V285.8H254.9V285.9H255.4V285.8H256.9V285.9H260.4V285.8H261.4V286.4H261.9V287.3H262.4V286.8H262.9V286.0H263.4V285.9H265.9V285.8H266.4V285.9H267.4V285.8H269.9V285.9H270.4V285.8H273.4V285.9H274.4V285.8H282.4V285.9H284.9V285.8H294.4V285.9H294.9V286.0H295.4V286.7H295.9V288.6H296.4V289.9H296.9V288.6H297.4V286.7H297.9V285.9H298.4V285.9H339.3V285.7Z" fill="#38e038"/>
<path d="M84.4,361.8H84.4V361.8H119.4V361.6H119.9V361.0H120.4V361.4H120.9V361.8H149.4V361.6H149.9V361.0H150.4V361.4H150.9V361.8H195.9V347.3H196.9V352.3H197.4V348.9H197.9V347.3H198.9V348.6H199.4V350.8H199.9V348.9H200.4V349.7H200.9V347.3H201.4V347.4H201.9V347.3H203.4V352.2H203.9V349.4H204.4V354.9H204.9V350.0H205.4V351.5H205.9V350.1H206.4V353.7H206.9V354.2H207.4V349.6H207.9V349.3H208.4V347.3H209.4V348.8H209.9V350.2H210.4V350.8H210.9V349.2H211.4V347.3H211.9V348.4H212.4V347.3H212.9V352.6H213.4V355.7H213.9V357.2H214.4V352.4H214.9V355.0H215.4V352.6H215.9V349.8H216.4V353.4H216.9V353.9H217.4V350.1H217.9V354.1H218.4V353.7H218.9V355.7H219.4V351.3H219.9V352.9H220.4V353.4H220.9V356.5H221.4V353.8H221.9V356.6H222.4V358.3H222.9V357.9H223.4V357.0H223.9V354.5H224.4V356.8H224.9V355.9H225.4V356.0H225.9V354.8H226.4V356.1H226.9V358.1H227.4V359.1H227.9V358.0H228.4V357.1H228.9V357.9H229.4V357.3H229.9V358.7H230.4V359.7H230.9V359.2H231.4V357.4H231.9V357.5H232.4V357.7H232.9V359.6H233.4V358.6H233.9V358.4H234.4V359.4H234.9V359.0H235.4V357.7H235.9V358.1H236.4V357.0H237.4V357.5H237.9V358.4H238.4V359.8H238.9V359.9H239.4V360.4H239.9V358.9H240.4V359.5H240.9V359.8H241.4V360.3H242.4V358.9H242.9V359.7H243.4V360.0H243.9V360.7H244.4V360.2H244.9V360.5H245.4V360.9H245.9V361.0H246.4V360.9H247.4V360.4H247.9V359.9H248.4V359.4H248.9V360.0H249.4V360.5H249.9V359.5H250.4V359.6H251.4V360.3H251.9V360.3H252.4V359.9H252.9V360.0H253.4V359.9H253.9V360.3H254.4V361.3H254.9V361.4H255.4V361.2H257.9V361.3H258.4V361.5H258.9V361.3H259.4V361.2H259.9V361.3H261.4V361.5H261.9V361.4H262.4V361.5H262.9V361.6H263.9V361.4H264.4V361.5H264.9V361.4H265.4V361.3H265.9V361.4H266.4V361.4H267.9V361.4H269.4V361.5H269.9V361.6H270.9V361.5H271.4V361.5H272.4V361.6H273.9V361.5H274.4V361.5H275.4V361.5H277.4V361.6H277.9V361.4H278.4V361.5H278.9V361.4H279.4V361.3H279.9V361.5H280.4V361.5H280.9V360.9H281.4V359.5H281.9V358.3H282.4V359.0H282.9V360.7H283.4V361.3H283.9V361.5H284.9V361.6H285.9V361.4H286.4V361.5H286.9V361.4H287.9V361.4H288.9V361.5H289.4V361.4H290.4V361.6H290.9V361.7H291.4V361.6H294.4V361.5H294.9V361.6H295.4V361.5H295.9V361.4H296.4V361.5H296.9V361.4H297.9V361.4H298.4V361.5H299.4V361.5H299.9V361.4H300.9V361.5H301.9V361.6H302.4V361.6H303.4V361.5H303.9V361.6H304.4V361.4H304.9V361.5H306.4V361.6H307.4V361.4H307.9V361.4H309.9V361.3H310.4V361.4H311.4V361.6H311.9V361.5H314.4V361.6H314.9V361.5H315.4V361.6H317.4V361.5H317.9V361.4H318.4V361.5H320.9V361.6H322.4V361.5H323.4V361.6H323.9V361.4H324.4V361.3H324.9V361.4H325.4V361.6H326.4V361.6H328.9V361.5H329.4V361.4H330.9V361.5H332.9V361.6H333.9V361.4H334.4V361.6H335.4V361.5H335.9V361.4H336.4V361.5H337.4V361.6H338.9V361.4H339.3V361.8Z" fill="#f65a7a"/>
<path d="M84.4,361.8H84.4V361.8H195.9V350.3H196.4V353.5H196.9V352.3H197.4V353.3H197.9V351.9H198.4V354.0H198.9V352.6H199.4V351.3H199.9V354.0H200.4V353.3H200.9V353.9H201.4V354.3H201.9V352.0H202.4V351.3H202.9V352.8H203.4V353.2H203.9V353.9H204.4V354.9H204.9V351.2H205.4V353.3H205.9V352.5H206.4V354.3H206.9V354.8H207.4V355.5H207.9V354.4H208.4V354.0H208.9V353.7H209.4V353.4H209.9V353.2H210.4V352.6H210.9V353.0H211.4V353.6H211.9V353.3H212.4V354.4H212.9V354.7H213.4V355.7H213.9V357.2H214.4V355.3H214.9V355.0H215.4V355.4H215.9V354.5H216.4V356.9H216.9V355.3H217.4V354.3H217.9V356.0H218.4V354.8H218.9V355.7H219.4V357.5H219.9V357.4H220.4V356.8H220.9V356.5H221.4V356.2H221.9V356.6H222.4V358.3H222.9V357.9H223.9V357.3H224.4V356.8H224.9V358.2H225.4V357.5H225.9V358.1H226.9V358.7H227.4V359.1H227.9V358.5H228.4V357.6H228.9V358.8H229.4V358.5H229.9V359.2H230.4V359.7H230.9V359.2H231.4V358.8H231.9V359.2H232.4V358.7H232.9V359.6H233.4V358.6H233.9V359.1H234.4V359.4H234.9V359.4H235.4V359.9H236.4V359.2H236.9V359.5H237.4V359.8H237.9V359.6H238.4V359.8H238.9V359.9H239.4V360.4H239.9V359.8H240.4V359.6H240.9V360.4H241.4V360.3H242.4V359.9H242.9V360.4H243.4V360.0H243.9V360.7H244.4V360.4H245.4V360.9H245.9V361.0H246.4V360.9H247.4V360.4H248.4V360.5H248.9V360.7H249.4V360.5H249.9V360.6H250.4V360.7H251.9V360.7H252.4V360.9H252.9V360.7H253.4V360.8H253.9V360.6H254.4V361.3H254.9V361.4H256.4V361.4H256.9V361.5H257.4V361.4H257.9V361.5H258.9V361.5H261.4V361.6H262.4V361.5H262.9V361.6H264.4V361.5H264.9V361.6H265.9V361.5H266.4V361.6H267.4V361.5H269.9V361.6H272.9V361.7H274.4V361.6H274.9V361.5H275.9V361.6H276.4V361.5H276.9V361.6H283.9V361.6H285.9V361.6H286.4V361.6H287.4V361.6H290.9V361.7H291.4V361.6H299.4V361.6H299.9V361.6H300.4V361.6H303.4V361.6H308.4V361.6H309.4V361.6H310.9V361.6H311.9V361.6H312.9V361.6H313.4V361.5H314.4V361.6H318.4V361.6H319.4V361.6H320.4V361.5H320.9V361.6H325.4V361.6H325.9V361.6H329.4V361.6H329.9V361.6H332.4V361.6H332.9V361.6H333.9V361.6H334.9V361.6H335.9V361.5H338.4V361.6H339.3V361.8Z" fill="#f0143c"/>
<path d="M84.4,366.6H84.4V366.6H123.4V366.9H123.9V368.3H124.4V370.0H124.9V369.1H125.4V367.3H125.9V366.7H126.4V366.6H143.4V371.0H143.9V369.9H144.4V371.6H144.9V372.5H145.4V371.1H145.9V369.9H146.4V370.3H146.9V371.3H147.4V370.7H147.9V371.5H148.4V377.1H148.9V377.4H149.4V375.6H149.9V371.2H150.4V371.6H150.9V370.3H151.9V370.6H152.4V371.3H152.9V371.2H153.4V370.5H153.9V371.6H154.4V371.3H154.9V373.1H155.4V376.0H155.9V376.1H156.4V372.9H156.9V371.7H157.4V371.1H157.9V370.2H158.4V370.8H158.9V373.9H159.4V376.5H159.9V377.4H160.4V382.2H160.9V380.0H161.4V374.5H161.9V374.0H162.4V375.5H162.9V372.5H163.4V371.7H163.9V371.7H164.4V371.8H164.9V375.2H165.4V379.7H165.9V381.5H166.4V380.0H166.9V378.0H167.4V372.3H167.9V373.4H168.4V373.3H168.9V377.8H169.4V384.3H169.9V381.9H170.4V375.0H170.9V371.3H171.4V370.6H171.9V374.1H172.4V374.3H172.9V376.1H173.4V374.5H173.9V372.4H174.4V371.3H174.9V373.5H175.4V378.9H175.9V375.5H176.4V372.2H176.9V373.6H177.4V375.6H177.9V374.9H178.4V375.0H178.9V373.3H179.4V377.5H179.9V382.1H180.4V380.5H180.9V376.3H181.4V373.5H181.9V371.7H182.4V369.9H182.9V371.1H183.4V376.1H183.9V386.9H184.4V382.6H184.9V376.1H185.4V371.2H185.9V373.4H186.4V372.3H186.9V370.1H187.4V371.8H187.9V370.0H188.4V371.8H188.9V376.7H189.4V370.7H189.9V371.2H190.4V371.9H190.9V377.1H191.4V381.6H191.9V376.9H192.4V373.7H192.9V372.6H193.4V371.0H193.9V366.6H322.4V366.7H322.9V367.0H323.4V367.6H323.9V368.1H324.4V367.9H324.9V367.3H325.4V366.8H325.9V366.6H329.4V367.0H329.9V367.6H330.4V367.2H330.9V366.7H331.4V366.6H339.3V366.6Z" fill="#fc5a62"/>
<path d="M84.4,415.3H84.4V414.8H85.4V415.0H85.9V414.7H86.4V415.0H86.9V414.9H87.4V414.7H87.9V414.9H88.4V414.8H88.9V414.8H89.4V415.0H90.4V414.8H91.4V414.7H91.9V414.9H92.4V415.0H92.9V415.1H93.4V414.9H93.9V414.7H95.4V414.8H95.9V414.7H96.4V414.9H97.4V414.8H97.9V414.7H98.4V414.8H98.9V415.0H100.9V414.8H101.4V414.9H101.9V414.7H102.4V414.3H102.9V413.1H103.4V409.8H103.9V408.5H104.4V411.3H104.9V414.0H105.4V414.6H105.9V414.9H106.4V414.8H106.9V415.0H107.4V414.9H107.9V414.7H108.4V414.9H108.9V415.0H109.4V415.1H109.9V414.9H110.4V415.1H111.4V415.0H111.9V414.7H112.4V414.8H112.9V414.8H113.4V414.8H113.9V415.0H114.4V414.8H114.9V415.0H115.4V414.8H115.9V414.6H116.4V414.9H116.9V414.8H117.4V414.8H117.9V414.9H118.9V414.7H119.4V414.5H119.9V414.8H120.4V414.7H120.9V414.6H121.4V414.8H122.4V415.0H123.4V414.8H124.4V414.7H124.9V414.9H125.9V414.7H126.9V414.8H127.4V414.8H127.9V414.6H128.4V414.7H128.9V414.9H129.4V414.7H129.9V414.8H130.9V415.0H131.4V414.9H132.4V415.0H132.9V414.9H133.4V415.0H133.9V414.8H134.4V415.0H134.9V414.8H135.4V414.7H135.9V414.7H136.4V414.7H136.9V414.8H137.4V414.7H137.9V414.8H138.4V414.9H138.9V414.7H139.4V414.8H139.9V414.8H140.4V414.7H140.9V414.8H141.4V414.7H141.9V414.9H142.4V414.7H142.9V414.9H143.4V415.0H143.9V414.7H144.4V414.9H144.9V414.7H145.4V414.5H145.9V414.6H146.4V414.9H146.9V415.1H147.9V415.0H148.4V414.8H148.9V414.6H149.4V414.8H149.9V414.9H150.4V414.8H150.9V415.0H151.4V415.1H151.9V414.9H152.4V414.8H152.9V415.0H153.4V414.9H153.9V414.8H154.4V414.7H154.9V414.8H155.4V414.6H155.9V414.9H156.4V414.7H156.9V414.6H157.4V414.6H157.9V414.7H158.4V414.9H158.9V415.1H159.4V414.9H159.9V415.0H160.4V414.8H160.9V415.0H161.4V414.8H161.9V414.9H162.4V415.1H163.4V415.0H163.9V414.9H164.9V415.0H165.4V414.9H165.9V414.7H166.4V414.7H166.9V414.6H167.4V414.9H167.9V414.6H168.4V414.5H168.9V414.7H169.4V414.7H170.4V414.6H170.9V414.9H171.4V414.8H172.4V414.9H172.9V414.7H173.4V414.7H173.9V414.9H174.4V414.8H176.4V415.0H176.9V414.8H177.9V414.7H178.4V414.9H178.9V414.7H180.4V414.6H180.9V414.9H181.4V414.8H181.9V414.8H182.4V414.7H182.9V414.8H183.4V415.0H184.4V414.9H184.9V415.0H185.4V415.1H185.9V415.0H186.4V414.9H186.9V414.8H187.4V415.0H187.9V414.8H188.4V414.9H188.9V414.7H189.4V415.0H189.9V414.7H190.9V414.5H191.4V414.5H192.4V414.8H192.9V414.9H193.4V415.0H193.9V414.8H194.4V414.9H194.9V415.0H195.4V415.1H195.9V414.1H196.4V411.9H196.9V411.1H197.4V409.0H197.9V402.6H198.4V399.1H198.9V404.1H199.4V408.6H199.9V410.4H200.4V410.8H200.9V411.9H201.4V412.8H201.9V411.3H202.4V410.7H202.9V410.5H203.4V409.8H203.9V411.9H204.4V412.1H204.9V411.3H205.4V412.6H206.4V412.2H206.9V413.1H207.4V413.2H207.9V412.6H208.4V411.9H208.9V413.1H209.4V413.1H209.9V412.4H210.4V411.3H210.9V412.6H211.4V412.1H212.4V410.0H212.9V404.7H213.4V405.5H213.9V408.8H214.4V413.1H214.9V411.8H215.4V409.1H215.9V408.4H216.4V408.9H216.9V410.0H217.4V412.1H217.9V412.7H218.4V412.2H218.9V411.2H219.4V413.5H219.9V411.9H220.4V411.0H220.9V412.3H221.4V412.4H221.9V413.1H222.4V412.0H222.9V411.9H223.4V410.7H223.9V410.9H224.4V412.7H224.9V413.2H225.4V411.7H225.9V412.5H226.4V411.1H226.9V406.0H227.4V402.1H227.9V404.3H228.4V408.2H228.9V409.7H229.4V408.8H229.9V406.0H230.4V406.8H230.9V408.2H231.4V410.5H231.9V411.5H232.4V410.7H232.9V412.7H233.4V412.3H233.9V411.4H234.4V412.8H234.9V413.8H235.4V412.3H235.9V410.8H236.4V412.6H236.9V413.3H237.4V412.7H237.9V411.6H238.4V410.8H238.9V411.9H239.4V412.4H240.4V411.4H240.9V412.9H241.4V412.6H241.9V412.1H242.4V412.4H242.9V413.6H243.4V413.5H243.9V413.0H244.4V414.0H244.9V413.9H245.4V412.7H245.9V412.8H246.9V410.6H247.4V411.1H247.9V408.9H248.4V409.9H248.9V409.5H249.4V411.1H249.9V413.0H250.4V412.7H250.9V412.8H251.4V411.5H251.9V411.9H252.4V413.3H253.9V412.7H254.4V413.6H254.9V412.1H255.4V412.9H255.9V411.4H256.4V412.7H256.9V413.0H257.4V410.6H257.9V409.3H258.4V410.7H258.9V410.5H259.4V410.4H259.9V412.6H260.4V413.0H260.9V413.8H261.4V413.4H261.9V411.6H262.4V410.9H262.9V411.2H263.4V411.1H263.9V412.5H264.4V412.0H264.9V411.5H265.4V412.4H265.9V411.6H266.4V411.7H266.9V411.5H267.4V411.5H267.9V413.0H268.4V412.4H268.9V413.3H269.4V412.3H269.9V411.1H270.4V413.0H270.9V410.8H271.4V411.7H272.4V412.6H272.9V412.4H273.4V412.7H273.9V413.4H274.4V412.3H275.4V412.8H275.9V411.5H276.4V412.5H276.9V412.1H277.4V413.4H277.9V413.0H278.4V412.5H278.9V411.7H279.4V410.7H279.9V411.1H280.4V411.7H280.9V413.1H281.4V411.0H281.9V406.5H282.4V394.5H282.9V393.3H283.4V402.0H283.9V408.0H284.4V408.4H284.9V407.0H285.4V408.7H285.9V411.1H286.4V411.5H286.9V413.3H287.4V413.8H287.9V412.8H288.9V411.7H289.4V412.5H289.9V412.8H290.4V413.1H290.9V413.1H291.4V413.4H291.9V411.8H292.4V411.7H292.9V411.8H293.4V413.2H293.9V413.4H294.4V412.0H294.9V412.8H295.4V411.5H296.4V413.5H296.9V412.4H297.9V412.9H298.4V413.5H299.4V411.9H299.9V411.7H300.4V413.3H300.9V411.8H301.4V412.0H301.9V411.0H302.4V412.5H302.9V413.7H303.4V413.6H303.9V414.5H304.4V412.5H304.9V415.0H305.4V414.8H305.9V414.9H306.4V414.7H307.9V414.8H308.4V414.6H308.9V414.8H309.4V414.6H309.9V414.8H310.4V415.0H311.4V415.1H311.9V414.8H312.4V414.9H312.9V414.8H313.4V414.9H314.4V414.7H315.4V414.9H315.9V414.7H316.4V414.9H316.9V415.1H317.4V414.8H317.9V414.7H318.4V414.6H319.4V414.5H320.4V414.6H320.9V414.8H321.4V414.8H322.4V414.7H322.9V414.8H323.4V415.0H324.4V415.1H324.9V414.8H325.4V414.7H326.4V414.9H326.9V414.7H327.4V414.8H328.4V414.9H328.9V414.6H329.4V414.7H330.4V414.9H331.4V414.9H332.4V414.7H332.9V414.8H333.4V414.8H333.9V414.7H334.4V414.9H334.9V414.7H335.4V414.9H336.4V414.7H336.9V414.9H338.4V414.7H338.9V414.5H339.3V415.3Z" fill="#f5a012"/>
<path d="M84.4,420.0H84.4V421.2H84.9V423.9H85.4V421.4H85.9V421.0H86.4V424.0H86.9V424.2H87.4V421.3H87.9V421.1H88.4V421.2H88.9V423.8H89.4V421.5H89.9V422.2H90.4V421.0H90.9V421.1H91.4V421.4H91.9V421.2H92.4V420.9H92.9V422.8H93.4V423.1H93.9V421.4H94.4V421.2H94.9V421.0H95.4V421.1H95.9V421.0H96.4V423.6H96.9V421.5H97.4V422.6H97.9V422.4H98.4V423.4H98.9V421.4H99.4V421.2H99.9V423.6H100.4V422.4H100.9V422.1H101.4V422.7H101.9V423.1H102.4V422.3H102.9V423.1H103.4V427.2H103.9V422.5H104.4V422.5H104.9V422.7H105.4V422.2H105.9V423.2H106.4V426.7H106.9V424.6H107.4V422.5H109.4V423.1H109.9V422.5H110.4V426.4H110.9V422.8H111.9V423.0H112.9V422.5H113.4V422.9H113.9V422.0H114.4V422.9H114.9V428.6H115.4V422.1H115.9V427.0H116.4V425.2H116.9V422.1H117.4V423.1H117.9V422.9H118.4V422.6H118.9V422.8H119.4V422.3H119.9V422.8H120.4V422.2H120.9V423.1H121.4V427.0H121.9V425.4H122.4V422.6H122.9V428.9H123.4V427.8H123.9V438.1H124.4V439.9H124.9V429.6H125.4V423.6H125.9V422.9H126.4V423.0H127.4V423.2H127.9V422.0H128.4V426.7H128.9V422.4H129.4V425.8H129.9V428.1H130.4V428.9H130.9V428.1H131.4V422.5H131.9V426.2H132.4V423.1H132.9V422.6H133.4V423.0H133.9V428.5H134.4V424.3H134.9V427.0H135.4V428.7H135.9V423.9H136.4V430.0H136.9V422.6H137.4V422.5H137.9V428.7H138.4V422.9H139.4V422.2H139.9V423.0H140.4V422.7H140.9V422.2H141.9V422.8H142.4V425.0H142.9V426.9H143.4V427.9H143.9V423.5H144.4V427.4H144.9V429.2H145.4V422.0H145.9V422.5H146.4V426.3H146.9V422.9H147.9V422.2H148.4V422.7H148.9V422.6H149.4V429.3H149.9V427.7H150.4V427.6H150.9V423.1H151.9V422.7H152.4V427.5H152.9V429.8H153.4V429.1H153.9V435.1H154.4V433.9H154.9V429.5H155.4V422.0H155.9V422.4H156.4V422.9H156.9V422.8H157.4V425.7H157.9V426.3H158.4V422.7H158.9V422.5H159.4V424.2H159.9V422.0H160.4V427.3H160.9V422.8H161.4V427.6H161.9V432.9H162.4V429.2H162.9V424.5H163.4V422.2H163.9V422.6H164.4V425.8H164.9V422.2H165.4V426.8H165.9V424.8H166.4V422.9H166.9V423.0H167.4V422.8H167.9V422.5H168.4V422.9H168.9V422.7H169.4V426.2H169.9V422.8H170.4V423.1H170.9V426.4H171.4V428.2H171.9V422.0H172.4V422.5H172.9V423.0H173.4V422.4H173.9V422.2H174.4V422.5H174.9V427.0H175.4V422.9H175.9V424.2H176.4V427.9H176.9V434.1H177.4V430.8H177.9V425.1H178.4V422.8H178.9V423.0H179.4V423.1H179.9V422.1H180.4V423.2H180.9V422.8H181.4V423.1H181.9V426.0H182.4V422.5H182.9V422.9H183.4V422.5H183.9V422.2H184.4V426.2H184.9V423.1H185.4V422.8H185.9V422.5H186.4V423.2H186.9V422.9H187.4V428.0H187.9V422.5H188.4V425.2H188.9V422.2H189.4V422.3H189.9V427.8H190.4V430.1H190.9V426.5H191.4V431.8H191.9V423.7H192.4V422.3H192.9V426.9H193.4V420.2H193.9V420.1H195.9V420.2H197.9V420.1H198.4V420.2H200.9V420.1H201.4V420.2H203.4V420.1H215.4V420.2H215.9V420.1H228.9V420.2H229.4V420.9H229.9V422.1H230.4V421.4H230.9V420.4H231.4V420.1H256.9V420.2H257.4V420.7H257.9V421.6H258.4V421.1H258.9V420.3H259.4V420.2H339.3V420.0Z" fill="#f2c21e"/>
<rect x="84.4" y="449.3" width="254.9" height="2" fill="#c2c2c2"/>
<rect x="84.4" y="455.3" width="31.099999999999994" height="0.8" fill="#4848d8"/>
<rect x="123.5" y="455.3" width="215.8" height="0.8" fill="#4848d8"/>
<rect x="289" y="455.3" width="6" height="0.8" fill="#fff"/>
<path d="M88.9,454.5 L88,455.7 L88.9,456.9" fill="none" stroke="#6a6ae0" stroke-width="0.5"/>
<path d="M92.9,454.5 L92,455.7 L92.9,456.9" fill="none" stroke="#6a6ae0" stroke-width="0.5"/>
<path d="M96.9,454.5 L96,455.7 L96.9,456.9" fill="none" stroke="#6a6ae0" stroke-width="0.5"/>
<path d="M100.9,454.5 L100,455.7 L100.9,456.9" fill="none" stroke="#6a6ae0" stroke-width="0.5"/>
<path d="M128.9,454.5 L128,455.7 L128.9,456.9" fill="none" stroke="#6a6ae0" stroke-width="0.5"/>
<path d="M132.9,454.5 L132,455.7 L132.9,456.9" fill="none" stroke="#6a6ae0" stroke-width="0.5"/>
<path d="M136.9,454.5 L136,455.7 L136.9,456.9" fill="none" stroke="#6a6ae0" stroke-width="0.5"/>
<path d="M140.9,454.5 L140,455.7 L140.9,456.9" fill="none" stroke="#6a6ae0" stroke-width="0.5"/>
<path d="M144.9,454.5 L144,455.7 L144.9,456.9" fill="none" stroke="#6a6ae0" stroke-width="0.5"/>
<path d="M148.9,454.5 L148,455.7 L148.9,456.9" fill="none" stroke="#6a6ae0" stroke-width="0.5"/>
<path d="M152.9,454.5 L152,455.7 L152.9,456.9" fill="none" stroke="#6a6ae0" stroke-width="0.5"/>
<path d="M156.9,454.5 L156,455.7 L156.9,456.9" fill="none" stroke="#6a6ae0" stroke-width="0.5"/>
<path d="M160.9,454.5 L160,455.7 L160.9,456.9" fill="none" stroke="#6a6ae0" stroke-width="0.5"/>
<path d="M164.9,454.5 L164,455.7 L164.9,456.9" fill="none" stroke="#6a6ae0" stroke-width="0.5"/>
<path d="M168.9,454.5 L168,455.7 L168.9,456.9" fill="none" stroke="#6a6ae0" stroke-width="0.5"/>
<path d="M172.9,454.5 L172,455.7 L172.9,456.9" fill="none" stroke="#6a6ae0" stroke-width="0.5"/>
<path d="M176.9,454.5 L176,455.7 L176.9,456.9" fill="none" stroke="#6a6ae0" stroke-width="0.5"/>
<path d="M180.9,454.5 L180,455.7 L180.9,456.9" fill="none" stroke="#6a6ae0" stroke-width="0.5"/>
<path d="M184.9,454.5 L184,455.7 L184.9,456.9" fill="none" stroke="#6a6ae0" stroke-width="0.5"/>
<path d="M188.9,454.5 L188,455.7 L188.9,456.9" fill="none" stroke="#6a6ae0" stroke-width="0.5"/>
<path d="M192.9,454.5 L192,455.7 L192.9,456.9" fill="none" stroke="#6a6ae0" stroke-width="0.5"/>
<path d="M196.9,454.5 L196,455.7 L196.9,456.9" fill="none" stroke="#6a6ae0" stroke-width="0.5"/>
<path d="M200.9,454.5 L200,455.7 L200.9,456.9" fill="none" stroke="#6a6ae0" stroke-width="0.5"/>
<path d="M204.9,454.5 L204,455.7 L204.9,456.9" fill="none" stroke="#6a6ae0" stroke-width="0.5"/>
<path d="M208.9,454.5 L208,455.7 L208.9,456.9" fill="none" stroke="#6a6ae0" stroke-width="0.5"/>
<path d="M212.9,454.5 L212,455.7 L212.9,456.9" fill="none" stroke="#6a6ae0" stroke-width="0.5"/>
<path d="M216.9,454.5 L216,455.7 L216.9,456.9" fill="none" stroke="#6a6ae0" stroke-width="0.5"/>
<path d="M220.9,454.5 L220,455.7 L220.9,456.9" fill="none" stroke="#6a6ae0" stroke-width="0.5"/>
<path d="M224.9,454.5 L224,455.7 L224.9,456.9" fill="none" stroke="#6a6ae0" stroke-width="0.5"/>
<path d="M228.9,454.5 L228,455.7 L228.9,456.9" fill="none" stroke="#6a6ae0" stroke-width="0.5"/>
<path d="M232.9,454.5 L232,455.7 L232.9,456.9" fill="none" stroke="#6a6ae0" stroke-width="0.5"/>
<path d="M236.9,454.5 L236,455.7 L236.9,456.9" fill="none" stroke="#6a6ae0" stroke-width="0.5"/>
<path d="M240.9,454.5 L240,455.7 L240.9,456.9" fill="none" stroke="#6a6ae0" stroke-width="0.5"/>
<path d="M244.9,454.5 L244,455.7 L244.9,456.9" fill="none" stroke="#6a6ae0" stroke-width="0.5"/>
<path d="M248.9,454.5 L248,455.7 L248.9,456.9" fill="none" stroke="#6a6ae0" stroke-width="0.5"/>
<path d="M252.9,454.5 L252,455.7 L252.9,456.9" fill="none" stroke="#6a6ae0" stroke-width="0.5"/>
<path d="M256.9,454.5 L256,455.7 L256.9,456.9" fill="none" stroke="#6a6ae0" stroke-width="0.5"/>
<path d="M260.9,454.5 L260,455.7 L260.9,456.9" fill="none" stroke="#6a6ae0" stroke-width="0.5"/>
<path d="M264.9,454.5 L264,455.7 L264.9,456.9" fill="none" stroke="#6a6ae0" stroke-width="0.5"/>
<path d="M268.9,454.5 L268,455.7 L268.9,456.9" fill="none" stroke="#6a6ae0" stroke-width="0.5"/>
<path d="M272.9,454.5 L272,455.7 L272.9,456.9" fill="none" stroke="#6a6ae0" stroke-width="0.5"/>
<path d="M276.9,454.5 L276,455.7 L276.9,456.9" fill="none" stroke="#6a6ae0" stroke-width="0.5"/>
<path d="M280.9,454.5 L280,455.7 L280.9,456.9" fill="none" stroke="#6a6ae0" stroke-width="0.5"/>
<path d="M299.9,454.5 L299,455.7 L299.9,456.9" fill="none" stroke="#6a6ae0" stroke-width="0.5"/>
<path d="M303.9,454.5 L303,455.7 L303.9,456.9" fill="none" stroke="#6a6ae0" stroke-width="0.5"/>
<path d="M307.9,454.5 L307,455.7 L307.9,456.9" fill="none" stroke="#6a6ae0" stroke-width="0.5"/>
<path d="M311.9,454.5 L311,455.7 L311.9,456.9" fill="none" stroke="#6a6ae0" stroke-width="0.5"/>
<path d="M315.9,454.5 L315,455.7 L315.9,456.9" fill="none" stroke="#6a6ae0" stroke-width="0.5"/>
<path d="M319.9,454.5 L319,455.7 L319.9,456.9" fill="none" stroke="#6a6ae0" stroke-width="0.5"/>
<path d="M323.9,454.5 L323,455.7 L323.9,456.9" fill="none" stroke="#6a6ae0" stroke-width="0.5"/>
<path d="M327.9,454.5 L327,455.7 L327.9,456.9" fill="none" stroke="#6a6ae0" stroke-width="0.5"/>
<path d="M331.9,454.5 L331,455.7 L331.9,456.9" fill="none" stroke="#6a6ae0" stroke-width="0.5"/>
<path d="M335.9,454.5 L335,455.7 L335.9,456.9" fill="none" stroke="#6a6ae0" stroke-width="0.5"/>
<path d="M339.9,454.5 L339,455.7 L339.9,456.9" fill="none" stroke="#6a6ae0" stroke-width="0.5"/>
<rect x="102.8" y="453.5" width="12.4" height="3.6" fill="#1414c0"/>
<rect x="102.8" y="452.6" width="0.8" height="5.4" fill="#1414c0"/>
<rect x="281" y="453.6" width="8" height="3.4" fill="#1414c0"/>
<path d="M123.6,455.7 L126.2,453.6 L126.2,457.8Z" fill="#1414c0"/>
<path d="M295.3,455.7 L297.8,453.6 L297.8,457.8Z" fill="#1414c0"/>
<rect x="131.29999999999998" y="453.4" width="0.8" height="4.8" fill="#3030c8"/>
<rect x="141.29999999999998" y="453.4" width="0.8" height="4.8" fill="#3030c8"/>
<rect x="143.6" y="453.4" width="0.8" height="4.8" fill="#3030c8"/>
<rect x="149.4" y="453.4" width="0.8" height="4.8" fill="#3030c8"/>
<rect x="151.7" y="453.4" width="0.8" height="4.8" fill="#3030c8"/>
<rect x="158.0" y="453.4" width="0.8" height="4.8" fill="#3030c8"/>
<rect x="176.6" y="453.4" width="0.8" height="4.8" fill="#3030c8"/>
<rect x="192.9" y="453.4" width="0.8" height="4.8" fill="#3030c8"/>
<rect x="204.6" y="453.4" width="0.8" height="4.8" fill="#3030c8"/>
<rect x="216.6" y="453.4" width="0.8" height="4.8" fill="#3030c8"/>
<rect x="238.6" y="453.4" width="0.8" height="4.8" fill="#3030c8"/>
<rect x="253.6" y="453.4" width="0.8" height="4.8" fill="#3030c8"/>
<rect x="261.6" y="453.4" width="0.8" height="4.8" fill="#3030c8"/>
<rect x="269.6" y="453.4" width="0.8" height="4.8" fill="#3030c8"/>
<rect x="304.6" y="453.4" width="0.8" height="4.8" fill="#3030c8"/>
<rect x="308.6" y="453.4" width="0.8" height="4.8" fill="#3030c8"/>
<rect x="310.6" y="453.4" width="0.8" height="4.8" fill="#3030c8"/>
<rect x="313.6" y="453.4" width="0.8" height="4.8" fill="#3030c8"/>
<rect x="321.6" y="453.4" width="0.8" height="4.8" fill="#3030c8"/>
<rect x="334.6" y="453.4" width="0.8" height="4.8" fill="#3030c8"/>
<rect x="211.2" y="447.6" width="0.8" height="2" fill="#6060e0"/>
<text x="41.6" y="195.7" font-size="8.6" fill="#5252ee" text-anchor="middle" font-style="normal" font-weight="normal" stroke="#5252ee" stroke-width="0.35">RNAPII</text>
<text x="41.6" y="205.8" font-size="8.6" fill="#5252ee" text-anchor="middle" font-style="normal" font-weight="normal" stroke="#5252ee" stroke-width="0.35">ChIP-seq</text>
<text x="41.6" y="329.2" font-size="8.6" fill="#ff2a48" text-anchor="middle" font-style="normal" font-weight="normal" stroke="#ff2a48" stroke-width="0.35">RNAPII</text>
<text x="41.6" y="340.0" font-size="8.6" fill="#ff2a48" text-anchor="middle" font-style="normal" font-weight="normal" stroke="#ff2a48" stroke-width="0.35">ChIP-seq</text>
<text x="59.8" y="232.2" font-size="8.6" fill="#5252ee" stroke="#5252ee" stroke-width="0.35" text-anchor="end">5<tspan dx="0.4">ˈ</tspan><tspan dx="3.0">TT-seq</tspan></text>
<text x="59.8" y="366.2" font-size="8.6" fill="#ff2a48" stroke="#ff2a48" stroke-width="0.35" text-anchor="end">5<tspan dx="0.4">ˈ</tspan><tspan dx="3.0">TT-seq</tspan></text>
<text x="59.8" y="286.6" font-size="8.6" fill="#5252ee" text-anchor="end" font-style="normal" font-weight="normal" stroke="#5252ee" stroke-width="0.35">MeChRIP-seq</text>
<text x="59.8" y="419.3" font-size="8.6" fill="#ff2a48" text-anchor="end" font-style="normal" font-weight="normal" stroke="#ff2a48" stroke-width="0.35">MeChRIP-seq</text>
<text x="69.8" y="226.4" font-size="8.8" fill="#5252ee" text-anchor="middle" font-style="normal" font-weight="normal" stroke="#5252ee" stroke-width="0.35">(+)</text>
<text x="69.8" y="238.6" font-size="8.8" fill="#5252ee" text-anchor="middle" font-style="normal" font-weight="normal" stroke="#5252ee" stroke-width="0.35">(-)</text>
<text x="69.8" y="280.2" font-size="8.8" fill="#5252ee" text-anchor="middle" font-style="normal" font-weight="normal" stroke="#5252ee" stroke-width="0.35">(+)</text>
<text x="69.8" y="292.1" font-size="8.8" fill="#5252ee" text-anchor="middle" font-style="normal" font-weight="normal" stroke="#5252ee" stroke-width="0.35">(-)</text>
<text x="69.8" y="359.8" font-size="8.8" fill="#ff2a48" text-anchor="middle" font-style="normal" font-weight="normal" stroke="#ff2a48" stroke-width="0.35">(+)</text>
<text x="69.8" y="372.5" font-size="8.8" fill="#ff2a48" text-anchor="middle" font-style="normal" font-weight="normal" stroke="#ff2a48" stroke-width="0.35">(-)</text>
<text x="69.8" y="413.3" font-size="8.8" fill="#ff2a48" text-anchor="middle" font-style="normal" font-weight="normal" stroke="#ff2a48" stroke-width="0.35">(+)</text>
<text x="69.8" y="426.20000000000005" font-size="8.8" fill="#ff2a48" text-anchor="middle" font-style="normal" font-weight="normal" stroke="#ff2a48" stroke-width="0.35">(-)</text>
<text x="76.3" y="191.3" font-size="6.6" fill="#444" stroke="#444" stroke-width="0.12">(0-700)</text>
<text x="76.3" y="215.9" font-size="6.6" fill="#444" stroke="#444" stroke-width="0.12">(0-2700)</text>
<text x="76.3" y="253.8" font-size="6.6" fill="#444" stroke="#444" stroke-width="0.12">(0-900)</text>
<text x="76.3" y="266.1" font-size="6.6" fill="#444" stroke="#444" stroke-width="0.12">(0-14)</text>
<text x="76.3" y="301.7" font-size="6.6" fill="#444" stroke="#444" stroke-width="0.12">(0-5)</text>
<text x="76.3" y="325.2" font-size="6.6" fill="#444" stroke="#444" stroke-width="0.12">(0-700)</text>
<text x="76.3" y="349.2" font-size="6.6" fill="#444" stroke="#444" stroke-width="0.12">(0-2700)</text>
<text x="76.3" y="387.3" font-size="6.6" fill="#444" stroke="#444" stroke-width="0.12">(0-900)</text>
<text x="76.3" y="399.9" font-size="6.6" fill="#444" stroke="#444" stroke-width="0.12">(0-14)</text>
<text x="76.3" y="437.1" font-size="6.6" fill="#444" stroke="#444" stroke-width="0.12">(0-5)</text>
<line x1="193.7" y1="461.2" x2="193.7" y2="472.2" stroke="#444" stroke-width="0.9"/>
<line x1="195.1" y1="461.2" x2="195.1" y2="472.2" stroke="#444" stroke-width="0.9"/>
<line x1="159" y1="472" x2="230.5" y2="472" stroke="#111" stroke-width="1.4"/>
<path d="M155.6,472 L160,469.8 L160,474.2Z" fill="#111"/>
<path d="M234,472 L229.6,469.8 L229.6,474.2Z" fill="#111"/>
<text x="137.2" y="475.4" font-size="8.8" fill="#222" text-anchor="middle" font-style="italic" stroke="#222" stroke-width="0.2">Atp6v1d</text>
<text x="237.4" y="475.4" font-size="8.8" fill="#222" text-anchor="start" font-style="italic" stroke="#222" stroke-width="0.2">Eif2s1</text>
<rect x="420.2" y="17.4" width="121.50000000000006" height="448.0" fill="none" stroke="#2a2a2a" stroke-width="1.1"/>
<line x1="420.2" y1="128.9" x2="541.7" y2="128.9" stroke="#2a2a2a" stroke-width="1.1"/>
<line x1="420.2" y1="240.5" x2="541.7" y2="240.5" stroke="#2a2a2a" stroke-width="1.1"/>
<line x1="420.2" y1="353.3" x2="541.7" y2="353.3" stroke="#2a2a2a" stroke-width="1.1"/>
<line x1="417.0" y1="118.4" x2="420.2" y2="118.4" stroke="#2a2a2a" stroke-width="1"/>
<text x="415.3" y="121.0" font-size="8.7" fill="#222233" stroke="#222233" stroke-width="0.15" text-anchor="end">0</text>
<line x1="417.0" y1="96.8" x2="420.2" y2="96.8" stroke="#2a2a2a" stroke-width="1"/>
<text x="415.3" y="99.39999999999999" font-size="8.7" fill="#222233" stroke="#222233" stroke-width="0.15" text-anchor="end">2</text>
<line x1="417.0" y1="75.2" x2="420.2" y2="75.2" stroke="#2a2a2a" stroke-width="1"/>
<text x="415.3" y="77.8" font-size="8.7" fill="#222233" stroke="#222233" stroke-width="0.15" text-anchor="end">4</text>
<line x1="417.0" y1="53.5" x2="420.2" y2="53.5" stroke="#2a2a2a" stroke-width="1"/>
<text x="415.3" y="56.1" font-size="8.7" fill="#222233" stroke="#222233" stroke-width="0.15" text-anchor="end">6</text>
<line x1="417.0" y1="32.0" x2="420.2" y2="32.0" stroke="#2a2a2a" stroke-width="1"/>
<text x="415.3" y="34.6" font-size="8.7" fill="#222233" stroke="#222233" stroke-width="0.15" text-anchor="end">8</text>
<line x1="433.1" y1="58.6" x2="433.1" y2="89.1" stroke="#3a3a4a" stroke-width="1.3"/>
<line x1="433.1" y1="58.6" x2="433.1" y2="89.1" stroke="#7a7aff" stroke-width="1.3" stroke-dasharray="2.5,8.5" stroke-dashoffset="-5"/>
<line x1="433.1" y1="107.6" x2="433.1" y2="117.6" stroke="#3a3a4a" stroke-width="1.3"/>
<line x1="433.1" y1="107.6" x2="433.1" y2="117.6" stroke="#7a7aff" stroke-width="1.3" stroke-dasharray="2.5,8.5" stroke-dashoffset="-5"/>
<rect x="431.6" y="58.0" width="3" height="1.3" fill="#222248"/>
<rect x="431.6" y="116.89999999999999" width="3" height="1.3" fill="#222248"/>
<rect x="428.6" y="89.1" width="9.0" height="18.5" fill="#3cc0f6" stroke="#1a1a1a" stroke-width="0.9"/>
<line x1="428.6" y1="99.5" x2="437.6" y2="99.5" stroke="#111" stroke-width="1.2"/>
<line x1="449.5" y1="47.8" x2="449.5" y2="78.3" stroke="#3a3a4a" stroke-width="1.3"/>
<line x1="449.5" y1="47.8" x2="449.5" y2="78.3" stroke="#7a7aff" stroke-width="1.3" stroke-dasharray="2.5,8.5" stroke-dashoffset="-5"/>
<line x1="449.5" y1="98.3" x2="449.5" y2="118.4" stroke="#3a3a4a" stroke-width="1.3"/>
<line x1="449.5" y1="98.3" x2="449.5" y2="118.4" stroke="#7a7aff" stroke-width="1.3" stroke-dasharray="2.5,8.5" stroke-dashoffset="-5"/>
<rect x="448.0" y="47.199999999999996" width="3" height="1.3" fill="#222248"/>
<rect x="448.0" y="117.7" width="3" height="1.3" fill="#222248"/>
<rect x="445.0" y="78.3" width="9.0" height="20.0" fill="#4c92f4" stroke="#1a1a1a" stroke-width="0.9"/>
<line x1="445.0" y1="89.5" x2="454.0" y2="89.5" stroke="#111" stroke-width="1.2"/>
<line x1="466.6" y1="41.1" x2="466.6" y2="74.9" stroke="#3a3a4a" stroke-width="1.3"/>
<line x1="466.6" y1="41.1" x2="466.6" y2="74.9" stroke="#7a7aff" stroke-width="1.3" stroke-dasharray="2.5,8.5" stroke-dashoffset="-5"/>
<line x1="466.6" y1="97.5" x2="466.6" y2="117.0" stroke="#3a3a4a" stroke-width="1.3"/>
<line x1="466.6" y1="97.5" x2="466.6" y2="117.0" stroke="#7a7aff" stroke-width="1.3" stroke-dasharray="2.5,8.5" stroke-dashoffset="-5"/>
<rect x="465.1" y="40.5" width="3" height="1.3" fill="#222248"/>
<rect x="465.1" y="116.3" width="3" height="1.3" fill="#222248"/>
<rect x="462.1" y="74.9" width="9.0" height="22.599999999999994" fill="#2a2cf0" stroke="#1a1a1a" stroke-width="0.9"/>
<line x1="462.1" y1="87.4" x2="471.1" y2="87.4" stroke="#111" stroke-width="1.2"/>
<line x1="497.8" y1="55.8" x2="497.8" y2="86.0" stroke="#3a3a4a" stroke-width="1.3"/>
<line x1="497.8" y1="55.8" x2="497.8" y2="86.0" stroke="#7a7aff" stroke-width="1.3" stroke-dasharray="2.5,8.5" stroke-dashoffset="-5"/>
<line x1="497.8" y1="106.5" x2="497.8" y2="118.2" stroke="#3a3a4a" stroke-width="1.3"/>
<line x1="497.8" y1="106.5" x2="497.8" y2="118.2" stroke="#7a7aff" stroke-width="1.3" stroke-dasharray="2.5,8.5" stroke-dashoffset="-5"/>
<rect x="496.3" y="55.199999999999996" width="3" height="1.3" fill="#222248"/>
<rect x="496.3" y="117.5" width="3" height="1.3" fill="#222248"/>
<rect x="493.3" y="86.0" width="9.0" height="20.5" fill="#f86a6a" stroke="#1a1a1a" stroke-width="0.9"/>
<line x1="493.3" y1="97.0" x2="502.3" y2="97.0" stroke="#111" stroke-width="1.2"/>
<line x1="512.5" y1="42.1" x2="512.5" y2="74.3" stroke="#3a3a4a" stroke-width="1.3"/>
<line x1="512.5" y1="42.1" x2="512.5" y2="74.3" stroke="#7a7aff" stroke-width="1.3" stroke-dasharray="2.5,8.5" stroke-dashoffset="-5"/>
<line x1="512.5" y1="96.5" x2="512.5" y2="115.6" stroke="#3a3a4a" stroke-width="1.3"/>
<line x1="512.5" y1="96.5" x2="512.5" y2="115.6" stroke="#7a7aff" stroke-width="1.3" stroke-dasharray="2.5,8.5" stroke-dashoffset="-5"/>
<rect x="511.0" y="41.5" width="3" height="1.3" fill="#222248"/>
<rect x="511.0" y="114.89999999999999" width="3" height="1.3" fill="#222248"/>
<rect x="508.0" y="74.3" width="9.0" height="22.200000000000003" fill="#f8820e" stroke="#1a1a1a" stroke-width="0.9"/>
<line x1="508.0" y1="86.4" x2="517.0" y2="86.4" stroke="#111" stroke-width="1.2"/>
<line x1="528.0" y1="37.7" x2="528.0" y2="71.7" stroke="#3a3a4a" stroke-width="1.3"/>
<line x1="528.0" y1="37.7" x2="528.0" y2="71.7" stroke="#7a7aff" stroke-width="1.3" stroke-dasharray="2.5,8.5" stroke-dashoffset="-5"/>
<line x1="528.0" y1="95.5" x2="528.0" y2="114.0" stroke="#3a3a4a" stroke-width="1.3"/>
<line x1="528.0" y1="95.5" x2="528.0" y2="114.0" stroke="#7a7aff" stroke-width="1.3" stroke-dasharray="2.5,8.5" stroke-dashoffset="-5"/>
<rect x="526.5" y="37.1" width="3" height="1.3" fill="#222248"/>
<rect x="526.5" y="113.3" width="3" height="1.3" fill="#222248"/>
<rect x="523.5" y="71.7" width="9.0" height="23.799999999999997" fill="#f20a0a" stroke="#1a1a1a" stroke-width="0.9"/>
<line x1="523.5" y1="84.4" x2="532.5" y2="84.4" stroke="#111" stroke-width="1.2"/>
<path d="M431.1,29.0 V27.4 H465.1 V29.0" fill="none" stroke="#1e1e1e" stroke-width="1.2"/>
<text x="434.8" y="25.2" font-size="6.55" fill="#262644" stroke="#262644" stroke-width="0.12" text-anchor="start">9.97x10<tspan font-size="4.4" dy="-2.5">-69</tspan></text>
<path d="M431.1,40.300000000000004 V38.7 H448.7 V40.300000000000004" fill="none" stroke="#1e1e1e" stroke-width="1.2"/>
<text x="426.6" y="37.1" font-size="6.55" fill="#262644" stroke="#262644" stroke-width="0.12" text-anchor="start">1.76x10<tspan font-size="4.4" dy="-2.5">-77</tspan></text>
<path d="M495.3,28.8 V27.2 H528.5 V28.8" fill="none" stroke="#1e1e1e" stroke-width="1.2"/>
<text x="498.3" y="24.9" font-size="6.55" fill="#262644" stroke="#262644" stroke-width="0.12" text-anchor="start">8.19x10<tspan font-size="4.4" dy="-2.5">-95</tspan></text>
<path d="M495.3,40.7 V39.1 H512.8 V40.7" fill="none" stroke="#1e1e1e" stroke-width="1.2"/>
<text x="489.8" y="36.8" font-size="6.55" fill="#262644" stroke="#262644" stroke-width="0.12" text-anchor="start">1.22x10<tspan font-size="4.4" dy="-2.5">-77</tspan></text>
<text transform="translate(387.2,110) rotate(-90)" font-size="8.6" fill="#222233" stroke="#222233" stroke-width="0.12" text-anchor="start">RNAPII levles at TSS</text>
<text transform="translate(397.6,110) rotate(-90)" font-size="8.6" fill="#222233" stroke="#222233" stroke-width="0.12" text-anchor="start">(RNAPII ChIP-seq)</text>
<line x1="417.0" y1="220.4" x2="420.2" y2="220.4" stroke="#2a2a2a" stroke-width="1"/>
<text x="415.3" y="223.0" font-size="8.7" fill="#222233" stroke="#222233" stroke-width="0.15" text-anchor="end">0</text>
<line x1="417.0" y1="204.56" x2="420.2" y2="204.56" stroke="#2a2a2a" stroke-width="1"/>
<text x="415.3" y="207.16" font-size="8.7" fill="#222233" stroke="#222233" stroke-width="0.15" text-anchor="end">1</text>
<line x1="417.0" y1="188.72" x2="420.2" y2="188.72" stroke="#2a2a2a" stroke-width="1"/>
<text x="415.3" y="191.32" font-size="8.7" fill="#222233" stroke="#222233" stroke-width="0.15" text-anchor="end">2</text>
<line x1="417.0" y1="172.88" x2="420.2" y2="172.88" stroke="#2a2a2a" stroke-width="1"/>
<text x="415.3" y="175.48" font-size="8.7" fill="#222233" stroke="#222233" stroke-width="0.15" text-anchor="end">3</text>
<line x1="417.0" y1="157.04000000000002" x2="420.2" y2="157.04000000000002" stroke="#2a2a2a" stroke-width="1"/>
<text x="415.3" y="159.64000000000001" font-size="8.7" fill="#222233" stroke="#222233" stroke-width="0.15" text-anchor="end">4</text>
<line x1="417.0" y1="141.2" x2="420.2" y2="141.2" stroke="#2a2a2a" stroke-width="1"/>
<text x="415.3" y="143.79999999999998" font-size="8.7" fill="#222233" stroke="#222233" stroke-width="0.15" text-anchor="end">5</text>
<line x1="433.1" y1="192" x2="433.1" y2="207.1" stroke="#3a3a4a" stroke-width="1.3"/>
<line x1="433.1" y1="192" x2="433.1" y2="207.1" stroke="#7a7aff" stroke-width="1.3" stroke-dasharray="2.5,8.5" stroke-dashoffset="-5"/>
<line x1="433.1" y1="217.2" x2="433.1" y2="220.2" stroke="#3a3a4a" stroke-width="1.3"/>
<line x1="433.1" y1="217.2" x2="433.1" y2="220.2" stroke="#7a7aff" stroke-width="1.3" stroke-dasharray="2.5,8.5" stroke-dashoffset="-5"/>
<rect x="431.6" y="191.4" width="3" height="1.3" fill="#222248"/>
<rect x="431.6" y="219.5" width="3" height="1.3" fill="#222248"/>
<rect x="428.6" y="207.1" width="9.0" height="10.099999999999994" fill="#3cc0f6" stroke="#1a1a1a" stroke-width="0.9"/>
<line x1="428.6" y1="214.5" x2="437.6" y2="214.5" stroke="#111" stroke-width="1.2"/>
<line x1="449.5" y1="167.7" x2="449.5" y2="194" stroke="#3a3a4a" stroke-width="1.3"/>
<line x1="449.5" y1="167.7" x2="449.5" y2="194" stroke="#7a7aff" stroke-width="1.3" stroke-dasharray="2.5,8.5" stroke-dashoffset="-5"/>
<line x1="449.5" y1="211.7" x2="449.5" y2="220.4" stroke="#3a3a4a" stroke-width="1.3"/>
<line x1="449.5" y1="211.7" x2="449.5" y2="220.4" stroke="#7a7aff" stroke-width="1.3" stroke-dasharray="2.5,8.5" stroke-dashoffset="-5"/>
<rect x="448.0" y="167.1" width="3" height="1.3" fill="#222248"/>
<rect x="448.0" y="219.70000000000002" width="3" height="1.3" fill="#222248"/>
<rect x="445.0" y="194" width="9.0" height="17.69999999999999" fill="#4c92f4" stroke="#1a1a1a" stroke-width="0.9"/>
<line x1="445.0" y1="205" x2="454.0" y2="205" stroke="#111" stroke-width="1.2"/>
<line x1="466.6" y1="150.7" x2="466.6" y2="187.1" stroke="#3a3a4a" stroke-width="1.3"/>
<line x1="466.6" y1="150.7" x2="466.6" y2="187.1" stroke="#7a7aff" stroke-width="1.3" stroke-dasharray="2.5,8.5" stroke-dashoffset="-5"/>
<line x1="466.6" y1="210.3" x2="466.6" y2="219" stroke="#3a3a4a" stroke-width="1.3"/>
<line x1="466.6" y1="210.3" x2="466.6" y2="219" stroke="#7a7aff" stroke-width="1.3" stroke-dasharray="2.5,8.5" stroke-dashoffset="-5"/>
<rect x="465.1" y="150.1" width="3" height="1.3" fill="#222248"/>
<rect x="465.1" y="218.3" width="3" height="1.3" fill="#222248"/>
<rect x="462.1" y="187.1" width="9.0" height="23.200000000000017" fill="#2a2cf0" stroke="#1a1a1a" stroke-width="0.9"/>
<line x1="462.1" y1="201.2" x2="471.1" y2="201.2" stroke="#111" stroke-width="1.2"/>
<line x1="497.8" y1="192" x2="497.8" y2="207.7" stroke="#3a3a4a" stroke-width="1.3"/>
<line x1="497.8" y1="192" x2="497.8" y2="207.7" stroke="#7a7aff" stroke-width="1.3" stroke-dasharray="2.5,8.5" stroke-dashoffset="-5"/>
<line x1="497.8" y1="217.2" x2="497.8" y2="220.2" stroke="#3a3a4a" stroke-width="1.3"/>
<line x1="497.8" y1="217.2" x2="497.8" y2="220.2" stroke="#7a7aff" stroke-width="1.3" stroke-dasharray="2.5,8.5" stroke-dashoffset="-5"/>
<rect x="496.3" y="191.4" width="3" height="1.3" fill="#222248"/>
<rect x="496.3" y="219.5" width="3" height="1.3" fill="#222248"/>
<rect x="493.3" y="207.7" width="9.0" height="9.5" fill="#f86a6a" stroke="#1a1a1a" stroke-width="0.9"/>
<line x1="493.3" y1="214" x2="502.3" y2="214" stroke="#111" stroke-width="1.2"/>
<line x1="512.5" y1="171.7" x2="512.5" y2="196.2" stroke="#3a3a4a" stroke-width="1.3"/>
<line x1="512.5" y1="171.7" x2="512.5" y2="196.2" stroke="#7a7aff" stroke-width="1.3" stroke-dasharray="2.5,8.5" stroke-dashoffset="-5"/>
<line x1="512.5" y1="212.4" x2="512.5" y2="220.2" stroke="#3a3a4a" stroke-width="1.3"/>
<line x1="512.5" y1="212.4" x2="512.5" y2="220.2" stroke="#7a7aff" stroke-width="1.3" stroke-dasharray="2.5,8.5" stroke-dashoffset="-5"/>
<rect x="511.0" y="171.1" width="3" height="1.3" fill="#222248"/>
<rect x="511.0" y="219.5" width="3" height="1.3" fill="#222248"/>
<rect x="508.0" y="196.2" width="9.0" height="16.200000000000017" fill="#f8820e" stroke="#1a1a1a" stroke-width="0.9"/>
<line x1="508.0" y1="205.6" x2="517.0" y2="205.6" stroke="#111" stroke-width="1.2"/>
<line x1="528.0" y1="156.6" x2="528.0" y2="188.2" stroke="#3a3a4a" stroke-width="1.3"/>
<line x1="528.0" y1="156.6" x2="528.0" y2="188.2" stroke="#7a7aff" stroke-width="1.3" stroke-dasharray="2.5,8.5" stroke-dashoffset="-5"/>
<line x1="528.0" y1="209.6" x2="528.0" y2="220.2" stroke="#3a3a4a" stroke-width="1.3"/>
<line x1="528.0" y1="209.6" x2="528.0" y2="220.2" stroke="#7a7aff" stroke-width="1.3" stroke-dasharray="2.5,8.5" stroke-dashoffset="-5"/>
<rect x="526.5" y="156.0" width="3" height="1.3" fill="#222248"/>
<rect x="526.5" y="219.5" width="3" height="1.3" fill="#222248"/>
<rect x="523.5" y="188.2" width="9.0" height="21.400000000000006" fill="#f20a0a" stroke="#1a1a1a" stroke-width="0.9"/>
<line x1="523.5" y1="200.4" x2="532.5" y2="200.4" stroke="#111" stroke-width="1.2"/>
<path d="M432.2,140.7 V139.1 H465.7 V140.7" fill="none" stroke="#1e1e1e" stroke-width="1.2"/>
<text x="433.7" y="136.6" font-size="6.55" fill="#262644" stroke="#262644" stroke-width="0.12" text-anchor="start">6.04x10<tspan font-size="4.4" dy="-2.5">-174</tspan></text>
<path d="M432.2,152.29999999999998 V150.7 H449.9 V152.29999999999998" fill="none" stroke="#1e1e1e" stroke-width="1.2"/>
<text x="425.3" y="148.2" font-size="6.55" fill="#262644" stroke="#262644" stroke-width="0.12" text-anchor="start">2.54x10<tspan font-size="4.4" dy="-2.5">-131</tspan></text>
<path d="M496.3,140.7 V139.1 H529.6 V140.7" fill="none" stroke="#1e1e1e" stroke-width="1.2"/>
<text x="497.8" y="136.6" font-size="6.55" fill="#262644" stroke="#262644" stroke-width="0.12" text-anchor="start">3.43x10<tspan font-size="4.4" dy="-2.5">-174</tspan></text>
<path d="M496.3,152.29999999999998 V150.7 H513.8 V152.29999999999998" fill="none" stroke="#1e1e1e" stroke-width="1.2"/>
<text x="489.4" y="148.2" font-size="6.55" fill="#262644" stroke="#262644" stroke-width="0.12" text-anchor="start">4.98x10<tspan font-size="4.4" dy="-2.5">-102</tspan></text>
<text transform="translate(387.6,181.2) rotate(-90)" font-size="8.6" fill="#222233" stroke="#222233" stroke-width="0.12" text-anchor="middle">Chromatin RNAs</text>
<text transform="translate(398.1,181.6) rotate(-90)" font-size="8.6" fill="#222233" stroke="#222233" stroke-width="0.12" text-anchor="middle">(CheRNA-seq)</text>
<line x1="417.0" y1="334.6" x2="420.2" y2="334.6" stroke="#2a2a2a" stroke-width="1"/>
<text x="415.3" y="337.20000000000005" font-size="8.7" fill="#222233" stroke="#222233" stroke-width="0.15" text-anchor="end">0</text>
<line x1="417.0" y1="300.5" x2="420.2" y2="300.5" stroke="#2a2a2a" stroke-width="1"/>
<text x="415.3" y="303.1" font-size="8.7" fill="#222233" stroke="#222233" stroke-width="0.15" text-anchor="end">5</text>
<line x1="417.0" y1="265.9" x2="420.2" y2="265.9" stroke="#2a2a2a" stroke-width="1"/>
<text x="415.3" y="268.5" font-size="8.7" fill="#222233" stroke="#222233" stroke-width="0.15" text-anchor="end">10</text>
<line x1="433.1" y1="271.7" x2="433.1" y2="299.9" stroke="#3a3a4a" stroke-width="1.3"/>
<line x1="433.1" y1="271.7" x2="433.1" y2="299.9" stroke="#7a7aff" stroke-width="1.3" stroke-dasharray="2.5,8.5" stroke-dashoffset="-5"/>
<line x1="433.1" y1="318.4" x2="433.1" y2="333.8" stroke="#3a3a4a" stroke-width="1.3"/>
<line x1="433.1" y1="318.4" x2="433.1" y2="333.8" stroke="#7a7aff" stroke-width="1.3" stroke-dasharray="2.5,8.5" stroke-dashoffset="-5"/>
<rect x="431.6" y="271.09999999999997" width="3" height="1.3" fill="#222248"/>
<rect x="431.6" y="333.1" width="3" height="1.3" fill="#222248"/>
<rect x="428.6" y="299.9" width="9.0" height="18.5" fill="#3cc0f6" stroke="#1a1a1a" stroke-width="0.9"/>
<line x1="428.6" y1="310" x2="437.6" y2="310" stroke="#111" stroke-width="1.2"/>
<line x1="449.5" y1="269" x2="449.5" y2="294.2" stroke="#3a3a4a" stroke-width="1.3"/>
<line x1="449.5" y1="269" x2="449.5" y2="294.2" stroke="#7a7aff" stroke-width="1.3" stroke-dasharray="2.5,8.5" stroke-dashoffset="-5"/>
<line x1="449.5" y1="312.1" x2="449.5" y2="331.7" stroke="#3a3a4a" stroke-width="1.3"/>
<line x1="449.5" y1="312.1" x2="449.5" y2="331.7" stroke="#7a7aff" stroke-width="1.3" stroke-dasharray="2.5,8.5" stroke-dashoffset="-5"/>
<rect x="448.0" y="268.4" width="3" height="1.3" fill="#222248"/>
<rect x="448.0" y="331.0" width="3" height="1.3" fill="#222248"/>
<rect x="445.0" y="294.2" width="9.0" height="17.900000000000034" fill="#4c92f4" stroke="#1a1a1a" stroke-width="0.9"/>
<line x1="445.0" y1="304.1" x2="454.0" y2="304.1" stroke="#111" stroke-width="1.2"/>
<line x1="466.6" y1="272.1" x2="466.6" y2="296.3" stroke="#3a3a4a" stroke-width="1.3"/>
<line x1="466.6" y1="272.1" x2="466.6" y2="296.3" stroke="#7a7aff" stroke-width="1.3" stroke-dasharray="2.5,8.5" stroke-dashoffset="-5"/>
<line x1="466.6" y1="312.1" x2="466.6" y2="332.7" stroke="#3a3a4a" stroke-width="1.3"/>
<line x1="466.6" y1="312.1" x2="466.6" y2="332.7" stroke="#7a7aff" stroke-width="1.3" stroke-dasharray="2.5,8.5" stroke-dashoffset="-5"/>
<rect x="465.1" y="271.5" width="3" height="1.3" fill="#222248"/>
<rect x="465.1" y="332.0" width="3" height="1.3" fill="#222248"/>
<rect x="462.1" y="296.3" width="9.0" height="15.800000000000011" fill="#2a2cf0" stroke="#1a1a1a" stroke-width="0.9"/>
<line x1="462.1" y1="305.2" x2="471.1" y2="305.2" stroke="#111" stroke-width="1.2"/>
<line x1="497.8" y1="274.2" x2="497.8" y2="301.2" stroke="#3a3a4a" stroke-width="1.3"/>
<line x1="497.8" y1="274.2" x2="497.8" y2="301.2" stroke="#7a7aff" stroke-width="1.3" stroke-dasharray="2.5,8.5" stroke-dashoffset="-5"/>
<line x1="497.8" y1="320.1" x2="497.8" y2="334.6" stroke="#3a3a4a" stroke-width="1.3"/>
<line x1="497.8" y1="320.1" x2="497.8" y2="334.6" stroke="#7a7aff" stroke-width="1.3" stroke-dasharray="2.5,8.5" stroke-dashoffset="-5"/>
<rect x="496.3" y="273.59999999999997" width="3" height="1.3" fill="#222248"/>
<rect x="496.3" y="333.90000000000003" width="3" height="1.3" fill="#222248"/>
<rect x="493.3" y="301.2" width="9.0" height="18.900000000000034" fill="#f86a6a" stroke="#1a1a1a" stroke-width="0.9"/>
<line x1="493.3" y1="311" x2="502.3" y2="311" stroke="#111" stroke-width="1.2"/>
<line x1="512.5" y1="271" x2="512.5" y2="296.3" stroke="#3a3a4a" stroke-width="1.3"/>
<line x1="512.5" y1="271" x2="512.5" y2="296.3" stroke="#7a7aff" stroke-width="1.3" stroke-dasharray="2.5,8.5" stroke-dashoffset="-5"/>
<line x1="512.5" y1="312.5" x2="512.5" y2="333.2" stroke="#3a3a4a" stroke-width="1.3"/>
<line x1="512.5" y1="312.5" x2="512.5" y2="333.2" stroke="#7a7aff" stroke-width="1.3" stroke-dasharray="2.5,8.5" stroke-dashoffset="-5"/>
<rect x="511.0" y="270.4" width="3" height="1.3" fill="#222248"/>
<rect x="511.0" y="332.5" width="3" height="1.3" fill="#222248"/>
<rect x="508.0" y="296.3" width="9.0" height="16.19999999999999" fill="#f8820e" stroke="#1a1a1a" stroke-width="0.9"/>
<line x1="508.0" y1="304.7" x2="517.0" y2="304.7" stroke="#111" stroke-width="1.2"/>
<line x1="528.0" y1="274.2" x2="528.0" y2="297.4" stroke="#3a3a4a" stroke-width="1.3"/>
<line x1="528.0" y1="274.2" x2="528.0" y2="297.4" stroke="#7a7aff" stroke-width="1.3" stroke-dasharray="2.5,8.5" stroke-dashoffset="-5"/>
<line x1="528.0" y1="312.5" x2="528.0" y2="332.1" stroke="#3a3a4a" stroke-width="1.3"/>
<line x1="528.0" y1="312.5" x2="528.0" y2="332.1" stroke="#7a7aff" stroke-width="1.3" stroke-dasharray="2.5,8.5" stroke-dashoffset="-5"/>
<rect x="526.5" y="273.59999999999997" width="3" height="1.3" fill="#222248"/>
<rect x="526.5" y="331.40000000000003" width="3" height="1.3" fill="#222248"/>
<rect x="523.5" y="297.4" width="9.0" height="15.100000000000023" fill="#f20a0a" stroke="#1a1a1a" stroke-width="0.9"/>
<line x1="523.5" y1="305.4" x2="532.5" y2="305.4" stroke="#111" stroke-width="1.2"/>
<path d="M432.2,252.6 V251.0 H465.7 V252.6" fill="none" stroke="#1e1e1e" stroke-width="1.2"/>
<text x="436.0" y="249.3" font-size="6.55" fill="#262644" stroke="#262644" stroke-width="0.12" text-anchor="start">2.03x10<tspan font-size="4.4" dy="-2.5">-20</tspan></text>
<path d="M432.2,264.20000000000005 V262.6 H449.9 V264.20000000000005" fill="none" stroke="#1e1e1e" stroke-width="1.2"/>
<text x="427.6" y="261.0" font-size="6.55" fill="#262644" stroke="#262644" stroke-width="0.12" text-anchor="start">1.36x10<tspan font-size="4.4" dy="-2.5">-33</tspan></text>
<path d="M496.3,252.6 V251.0 H529.6 V252.6" fill="none" stroke="#1e1e1e" stroke-width="1.2"/>
<text x="499.6" y="249.3" font-size="6.55" fill="#262644" stroke="#262644" stroke-width="0.12" text-anchor="start">1.56x10<tspan font-size="4.4" dy="-2.5">-28</tspan></text>
<path d="M496.3,264.20000000000005 V262.6 H513.8 V264.20000000000005" fill="none" stroke="#1e1e1e" stroke-width="1.2"/>
<text x="490.6" y="261.0" font-size="6.55" fill="#262644" stroke="#262644" stroke-width="0.12" text-anchor="start">1.27x10<tspan font-size="4.4" dy="-2.5">-37</tspan></text>
<text transform="translate(388.0,289.3) rotate(-90)" font-size="8.6" fill="#222233" stroke="#222233" stroke-width="0.12" text-anchor="middle">RNAPII pausing index</text>
<text transform="translate(398.2,289.3) rotate(-90)" font-size="8.6" fill="#222233" stroke="#222233" stroke-width="0.12" text-anchor="middle">(TSS/gene body reads)</text>
<line x1="417.0" y1="449.6" x2="420.2" y2="449.6" stroke="#2a2a2a" stroke-width="1"/>
<text x="415.3" y="452.20000000000005" font-size="8.7" fill="#222233" stroke="#222233" stroke-width="0.15" text-anchor="end">0</text>
<line x1="417.0" y1="419.4" x2="420.2" y2="419.4" stroke="#2a2a2a" stroke-width="1"/>
<text x="415.3" y="422.0" font-size="8.7" fill="#222233" stroke="#222233" stroke-width="0.15" text-anchor="end">0.5</text>
<line x1="417.0" y1="388.5" x2="420.2" y2="388.5" stroke="#2a2a2a" stroke-width="1"/>
<text x="415.3" y="391.1" font-size="8.7" fill="#222233" stroke="#222233" stroke-width="0.15" text-anchor="end">1</text>
<line x1="417.0" y1="358.2" x2="420.2" y2="358.2" stroke="#2a2a2a" stroke-width="1"/>
<text x="415.3" y="360.8" font-size="8.7" fill="#222233" stroke="#222233" stroke-width="0.15" text-anchor="end">1.5</text>
<line x1="433.1" y1="373.7" x2="433.1" y2="402.7" stroke="#3a3a4a" stroke-width="1.3"/>
<line x1="433.1" y1="373.7" x2="433.1" y2="402.7" stroke="#7a7aff" stroke-width="1.3" stroke-dasharray="2.5,8.5" stroke-dashoffset="-5"/>
<line x1="433.1" y1="422.1" x2="433.1" y2="442.5" stroke="#3a3a4a" stroke-width="1.3"/>
<line x1="433.1" y1="422.1" x2="433.1" y2="442.5" stroke="#7a7aff" stroke-width="1.3" stroke-dasharray="2.5,8.5" stroke-dashoffset="-5"/>
<rect x="431.6" y="373.09999999999997" width="3" height="1.3" fill="#222248"/>
<rect x="431.6" y="441.8" width="3" height="1.3" fill="#222248"/>
<rect x="428.6" y="402.7" width="9.0" height="19.400000000000034" fill="#3cc0f6" stroke="#1a1a1a" stroke-width="0.9"/>
<line x1="428.6" y1="413.7" x2="437.6" y2="413.7" stroke="#111" stroke-width="1.2"/>
<line x1="449.5" y1="377.9" x2="449.5" y2="404.6" stroke="#3a3a4a" stroke-width="1.3"/>
<line x1="449.5" y1="377.9" x2="449.5" y2="404.6" stroke="#7a7aff" stroke-width="1.3" stroke-dasharray="2.5,8.5" stroke-dashoffset="-5"/>
<line x1="449.5" y1="423.6" x2="449.5" y2="439" stroke="#3a3a4a" stroke-width="1.3"/>
<line x1="449.5" y1="423.6" x2="449.5" y2="439" stroke="#7a7aff" stroke-width="1.3" stroke-dasharray="2.5,8.5" stroke-dashoffset="-5"/>
<rect x="448.0" y="377.29999999999995" width="3" height="1.3" fill="#222248"/>
<rect x="448.0" y="438.3" width="3" height="1.3" fill="#222248"/>
<rect x="445.0" y="404.6" width="9.0" height="19.0" fill="#4c92f4" stroke="#1a1a1a" stroke-width="0.9"/>
<line x1="445.0" y1="416.2" x2="454.0" y2="416.2" stroke="#111" stroke-width="1.2"/>
<line x1="466.6" y1="381.5" x2="466.6" y2="407.4" stroke="#3a3a4a" stroke-width="1.3"/>
<line x1="466.6" y1="381.5" x2="466.6" y2="407.4" stroke="#7a7aff" stroke-width="1.3" stroke-dasharray="2.5,8.5" stroke-dashoffset="-5"/>
<line x1="466.6" y1="424.2" x2="466.6" y2="443.2" stroke="#3a3a4a" stroke-width="1.3"/>
<line x1="466.6" y1="424.2" x2="466.6" y2="443.2" stroke="#7a7aff" stroke-width="1.3" stroke-dasharray="2.5,8.5" stroke-dashoffset="-5"/>
<rect x="465.1" y="380.9" width="3" height="1.3" fill="#222248"/>
<rect x="465.1" y="442.5" width="3" height="1.3" fill="#222248"/>
<rect x="462.1" y="407.4" width="9.0" height="16.80000000000001" fill="#2a2cf0" stroke="#1a1a1a" stroke-width="0.9"/>
<line x1="462.1" y1="416.8" x2="471.1" y2="416.8" stroke="#111" stroke-width="1.2"/>
<line x1="497.8" y1="382.7" x2="497.8" y2="407.8" stroke="#333" stroke-width="1.3" stroke-dasharray="3.5,2.5"/>
<line x1="497.8" y1="425.3" x2="497.8" y2="438.5" stroke="#333" stroke-width="1.3" stroke-dasharray="3.5,2.5"/>
<rect x="496.3" y="382.09999999999997" width="3" height="1.3" fill="#222248"/>
<rect x="496.3" y="437.8" width="3" height="1.3" fill="#222248"/>
<rect x="493.3" y="407.8" width="9.0" height="17.5" fill="#f86a6a" stroke="#1a1a1a" stroke-width="0.9"/>
<line x1="493.3" y1="418.3" x2="502.3" y2="418.3" stroke="#111" stroke-width="1.2"/>
<line x1="512.5" y1="387.4" x2="512.5" y2="411.2" stroke="#3a3a4a" stroke-width="1.3"/>
<line x1="512.5" y1="387.4" x2="512.5" y2="411.2" stroke="#7a7aff" stroke-width="1.3" stroke-dasharray="2.5,8.5" stroke-dashoffset="-5"/>
<line x1="512.5" y1="426.3" x2="512.5" y2="441.7" stroke="#3a3a4a" stroke-width="1.3"/>
<line x1="512.5" y1="426.3" x2="512.5" y2="441.7" stroke="#7a7aff" stroke-width="1.3" stroke-dasharray="2.5,8.5" stroke-dashoffset="-5"/>
<rect x="511.0" y="386.79999999999995" width="3" height="1.3" fill="#222248"/>
<rect x="511.0" y="441.0" width="3" height="1.3" fill="#222248"/>
<rect x="508.0" y="411.2" width="9.0" height="15.100000000000023" fill="#f8820e" stroke="#1a1a1a" stroke-width="0.9"/>
<line x1="508.0" y1="420" x2="517.0" y2="420" stroke="#111" stroke-width="1.2"/>
<line x1="528.0" y1="386.3" x2="528.0" y2="409.5" stroke="#3a3a4a" stroke-width="1.3"/>
<line x1="528.0" y1="386.3" x2="528.0" y2="409.5" stroke="#7a7aff" stroke-width="1.3" stroke-dasharray="2.5,8.5" stroke-dashoffset="-5"/>
<line x1="528.0" y1="425.7" x2="528.0" y2="443.8" stroke="#3a3a4a" stroke-width="1.3"/>
<line x1="528.0" y1="425.7" x2="528.0" y2="443.8" stroke="#7a7aff" stroke-width="1.3" stroke-dasharray="2.5,8.5" stroke-dashoffset="-5"/>
<rect x="526.5" y="385.7" width="3" height="1.3" fill="#222248"/>
<rect x="526.5" y="443.1" width="3" height="1.3" fill="#222248"/>
<rect x="523.5" y="409.5" width="9.0" height="16.19999999999999" fill="#f20a0a" stroke="#1a1a1a" stroke-width="0.9"/>
<line x1="523.5" y1="419.4" x2="532.5" y2="419.4" stroke="#111" stroke-width="1.2"/>
<path d="M448.4,362.6 V361.0 H513.2 V362.6" fill="none" stroke="#1e1e1e" stroke-width="1.2"/>
<text x="484.0" y="359.5" font-size="6.55" fill="#262644" stroke="#262644" stroke-width="0.12" text-anchor="middle">7.91x10<tspan font-size="4.4" dy="-2.5">-18</tspan></text>
<path d="M432.6,372.1 V370.5 H498.4 V372.1" fill="none" stroke="#1e1e1e" stroke-width="1.2"/>
<text x="467.6" y="369.3" font-size="6.55" fill="#262644" stroke="#262644" stroke-width="0.12" text-anchor="middle">9.3x10<tspan font-size="4.4" dy="-2.5">-17</tspan></text>
<text transform="translate(390.2,412.2) rotate(-90)" font-size="8.6" fill="#222233" stroke="#222233" stroke-width="0.12" text-anchor="middle">m6A levels on nascent RNAs</text>
<text transform="translate(399.0,413.5) rotate(-90)" font-size="8.6" fill="#222233" stroke="#222233" stroke-width="0.12" text-anchor="middle">(MeChRIP-seq)</text>
<line x1="433.6" y1="465.4" x2="433.6" y2="469.2" stroke="#2a2a2a" stroke-width="1"/>
<line x1="449.4" y1="465.4" x2="449.4" y2="469.2" stroke="#2a2a2a" stroke-width="1"/>
<line x1="465.9" y1="465.4" x2="465.9" y2="469.2" stroke="#2a2a2a" stroke-width="1"/>
<line x1="497.8" y1="465.4" x2="497.8" y2="469.2" stroke="#2a2a2a" stroke-width="1"/>
<line x1="513.7" y1="465.4" x2="513.7" y2="469.2" stroke="#2a2a2a" stroke-width="1"/>
<line x1="529.8" y1="465.4" x2="529.8" y2="469.2" stroke="#2a2a2a" stroke-width="1"/>
<text transform="translate(437.20000000000005,475.6) rotate(-45)" font-size="8.5" fill="#222233" stroke="#222233" stroke-width="0.18" text-anchor="end">slow</text>
<text transform="translate(453.0,475.6) rotate(-45)" font-size="8.5" fill="#222233" stroke="#222233" stroke-width="0.18" text-anchor="end">medium</text>
<text transform="translate(469.5,475.6) rotate(-45)" font-size="8.5" fill="#222233" stroke="#222233" stroke-width="0.18" text-anchor="end">fast</text>
<text transform="translate(501.40000000000003,475.6) rotate(-45)" font-size="8.5" fill="#222233" stroke="#222233" stroke-width="0.18" text-anchor="end">slow</text>
<text transform="translate(517.3000000000001,475.6) rotate(-45)" font-size="8.5" fill="#222233" stroke="#222233" stroke-width="0.18" text-anchor="end">medium</text>
<text transform="translate(533.4,475.6) rotate(-45)" font-size="8.5" fill="#222233" stroke="#222233" stroke-width="0.18" text-anchor="end">fast</text>
<line x1="425.8" y1="504.7" x2="466.5" y2="504.7" stroke="#222" stroke-width="1.2"/>
<line x1="492" y1="504.7" x2="531.6" y2="504.7" stroke="#222" stroke-width="1.2"/>
<text x="445.8" y="517.3" font-size="8.6" fill="#222233" stroke="#222233" stroke-width="0.25" text-anchor="middle">WT</text>
<text x="511.5" y="517.3" font-size="8.6" fill="#222233" stroke="#222233" stroke-width="0.25" text-anchor="middle">TKO</text>
</svg>
</body></html>
